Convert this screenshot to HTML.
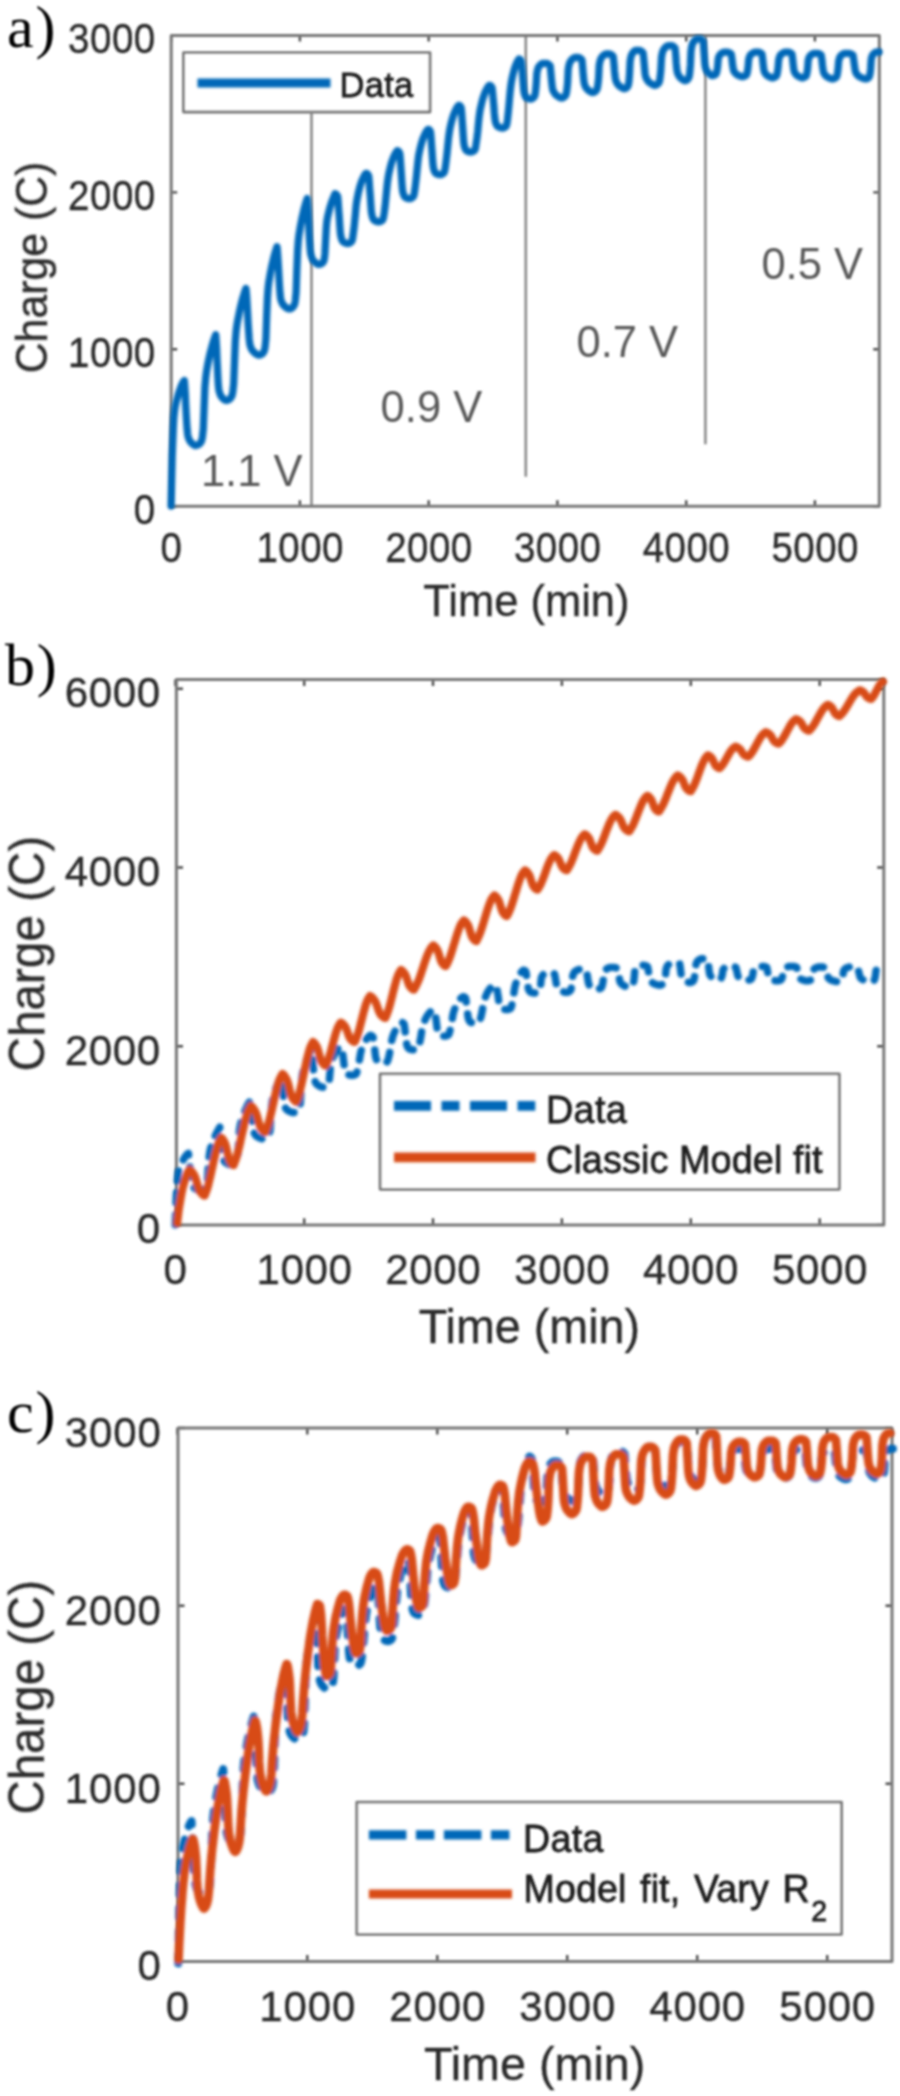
<!DOCTYPE html>
<html><head><meta charset="utf-8"><title>Charge vs Time</title>
<style>
html,body{margin:0;padding:0;background:#fff;}
body{width:900px;height:2096px;overflow:hidden;}
svg{display:block;}
</style></head><body>
<svg width="900" height="2096" viewBox="0 0 900 2096">
<defs><filter id="blt" filterUnits="userSpaceOnUse" x="0" y="0" width="900" height="2096"><feGaussianBlur stdDeviation="1.05"/></filter><filter id="blg" filterUnits="userSpaceOnUse" x="0" y="0" width="900" height="2096"><feGaussianBlur stdDeviation="1.35"/></filter></defs>
<rect width="900" height="2096" fill="#fff"/>
<g font-family="'Liberation Sans', Arial, Helvetica, sans-serif" fill="#2a2a2a">
<g filter="url(#blt)">
<text transform="translate(7.00 47.00)" font-size="60.00" letter-spacing="1.80" fill="#000" font-family="'Liberation Serif', 'Times New Roman', serif">a)</text>
<line x1="311.5" y1="112.0" x2="311.5" y2="506.2" stroke="#8a8a8a" stroke-width="2.6"/>
<line x1="525.8" y1="35.5" x2="525.8" y2="476.7" stroke="#8a8a8a" stroke-width="2.6"/>
<line x1="705.4" y1="35.5" x2="705.4" y2="444.3" stroke="#8a8a8a" stroke-width="2.6"/>
<path d="M171.2 506.2V500.2M171.2 35.5V41.5M299.9 506.2V500.2M299.9 35.5V41.5M428.7 506.2V500.2M428.7 35.5V41.5M557.4 506.2V500.2M557.4 35.5V41.5M686.2 506.2V500.2M686.2 35.5V41.5M814.9 506.2V500.2M814.9 35.5V41.5M171.2 506.2H177.2M879.3 506.2H873.3M171.2 349.3H177.2M879.3 349.3H873.3M171.2 192.4H177.2M879.3 192.4H873.3M171.2 35.5H177.2M879.3 35.5H873.3" stroke="#4a4a4a" stroke-width="2.40" fill="none"/>
<text transform="translate(171.45 561.80) scale(1.000 1.090)" font-size="38.50" letter-spacing="0.50" stroke="#2a2a2a" stroke-width="0.35" text-anchor="middle" fill="#2a2a2a">0</text>
<text transform="translate(300.20 561.80) scale(1.000 1.090)" font-size="38.50" letter-spacing="0.50" stroke="#2a2a2a" stroke-width="0.35" text-anchor="middle" fill="#2a2a2a">1000</text>
<text transform="translate(428.94 561.80) scale(1.000 1.090)" font-size="38.50" letter-spacing="0.50" stroke="#2a2a2a" stroke-width="0.35" text-anchor="middle" fill="#2a2a2a">2000</text>
<text transform="translate(557.69 561.80) scale(1.000 1.090)" font-size="38.50" letter-spacing="0.50" stroke="#2a2a2a" stroke-width="0.35" text-anchor="middle" fill="#2a2a2a">3000</text>
<text transform="translate(686.43 561.80) scale(1.000 1.090)" font-size="38.50" letter-spacing="0.50" stroke="#2a2a2a" stroke-width="0.35" text-anchor="middle" fill="#2a2a2a">4000</text>
<text transform="translate(815.18 561.80) scale(1.000 1.090)" font-size="38.50" letter-spacing="0.50" stroke="#2a2a2a" stroke-width="0.35" text-anchor="middle" fill="#2a2a2a">5000</text>
<text transform="translate(155.70 523.80) scale(1.000 1.090)" font-size="38.50" letter-spacing="0.50" stroke="#2a2a2a" stroke-width="0.35" text-anchor="end" fill="#2a2a2a">0</text>
<text transform="translate(155.70 366.90) scale(1.000 1.090)" font-size="38.50" letter-spacing="0.50" stroke="#2a2a2a" stroke-width="0.35" text-anchor="end" fill="#2a2a2a">1000</text>
<text transform="translate(155.70 210.00) scale(1.000 1.090)" font-size="38.50" letter-spacing="0.50" stroke="#2a2a2a" stroke-width="0.35" text-anchor="end" fill="#2a2a2a">2000</text>
<text transform="translate(155.70 53.10) scale(1.000 1.090)" font-size="38.50" letter-spacing="0.50" stroke="#2a2a2a" stroke-width="0.35" text-anchor="end" fill="#2a2a2a">3000</text>
<text transform="translate(526.40 616.30) scale(1.000 1.040)" font-size="43.50" stroke="#2a2a2a" stroke-width="0.35" text-anchor="middle" fill="#2a2a2a">Time (min)</text>
<text transform="translate(46.50 267.50) rotate(-90) scale(1.000 1.040)" font-size="42.80" stroke="#2a2a2a" stroke-width="0.35" text-anchor="middle" fill="#2a2a2a">Charge (C)</text>
<rect x="171.2" y="35.5" width="708.1" height="470.7" fill="none" stroke="#777777" stroke-width="3" stroke-linejoin="round"/>
</g>
<g filter="url(#blg)">
<path d="M171.1 506.0 L171.7 478.7 L172.2 456.4 L172.8 440.8 L173.3 427.8 L173.8 418.0 L174.4 412.1 L174.9 408.2 L175.5 405.0 L176.1 402.4 L176.6 400.2 L177.2 398.3 L177.7 396.5 L178.2 394.7 L178.8 393.0 L179.3 391.3 L179.9 389.6 L180.5 388.0 L181.0 386.6 L181.6 385.2 L182.1 384.0 L182.7 382.9 L183.2 381.9 L183.8 381.2 L184.3 380.6 L184.8 386.6 L185.3 394.2 L185.7 404.5 L186.2 414.5 L186.7 423.1 L187.2 429.9 L187.7 434.6 L188.1 436.6 L188.6 438.2 L189.1 439.4 L189.6 440.5 L190.1 441.2 L190.5 441.9 L191.0 442.4 L191.5 442.9 L192.0 443.4 L192.4 443.8 L192.9 444.2 L193.4 444.6 L193.9 444.9 L194.4 445.2 L194.8 445.3 L195.3 445.5 L195.8 445.5 L196.6 445.4 L197.5 445.1 L198.3 444.7 L199.1 444.2 L199.9 443.5 L200.8 442.4 L201.6 440.8 L202.4 437.2 L203.3 428.9 L204.1 407.6 L204.9 386.9 L205.8 377.0 L206.6 370.9 L207.4 366.3 L208.2 362.0 L209.1 357.9 L209.9 354.3 L210.7 350.9 L211.6 347.8 L212.4 344.8 L213.2 342.0 L214.0 339.4 L214.9 336.9 L215.7 334.7 L216.1 340.8 L216.6 348.5 L217.0 358.9 L217.5 369.0 L217.9 377.7 L218.3 384.6 L218.8 389.4 L219.2 391.4 L219.7 393.0 L220.1 394.3 L220.6 395.3 L221.0 396.1 L221.4 396.7 L221.9 397.3 L222.3 397.8 L222.8 398.3 L223.2 398.7 L223.7 399.1 L224.1 399.5 L224.5 399.8 L225.0 400.0 L225.4 400.2 L225.9 400.4 L226.3 400.4 L227.1 400.3 L227.9 400.0 L228.8 399.6 L229.6 399.1 L230.4 398.4 L231.2 397.3 L232.0 395.6 L232.8 392.0 L233.7 383.6 L234.5 362.1 L235.3 341.2 L236.1 331.2 L236.9 325.0 L237.7 320.3 L238.6 316.0 L239.4 311.9 L240.2 308.2 L241.0 304.8 L241.8 301.7 L242.6 298.7 L243.5 295.8 L244.3 293.1 L245.1 290.7 L245.9 288.4 L246.5 294.6 L247.0 302.4 L247.6 312.9 L248.1 323.2 L248.7 332.0 L249.2 339.1 L249.8 343.9 L250.3 346.0 L250.9 347.6 L251.4 348.9 L252.0 349.9 L252.6 350.7 L253.1 351.4 L253.7 351.9 L254.2 352.4 L254.8 352.9 L255.3 353.4 L255.9 353.8 L256.4 354.2 L257.0 354.5 L257.5 354.7 L258.1 354.9 L258.6 355.1 L259.2 355.1 L259.9 355.0 L260.7 354.7 L261.4 354.3 L262.2 353.8 L262.9 353.1 L263.6 352.1 L264.4 350.5 L265.1 347.0 L265.9 338.9 L266.6 318.0 L267.4 297.8 L268.1 288.1 L268.8 282.1 L269.6 277.6 L270.3 273.4 L271.1 269.4 L271.8 265.9 L272.6 262.6 L273.3 259.5 L274.0 256.6 L274.8 253.9 L275.5 251.3 L276.3 248.9 L277.0 246.7 L277.5 252.5 L278.0 259.8 L278.6 269.6 L279.1 279.2 L279.6 287.4 L280.1 294.0 L280.6 298.5 L281.1 300.4 L281.6 301.9 L282.2 303.1 L282.7 304.1 L283.2 304.8 L283.7 305.4 L284.2 305.9 L284.8 306.4 L285.3 306.9 L285.8 307.3 L286.3 307.7 L286.8 308.0 L287.3 308.3 L287.8 308.6 L288.4 308.7 L288.9 308.9 L289.4 308.9 L290.1 308.8 L290.9 308.5 L291.6 308.1 L292.4 307.6 L293.1 306.9 L293.8 305.8 L294.6 304.2 L295.3 300.6 L296.1 292.4 L296.8 271.1 L297.6 250.5 L298.3 240.6 L299.0 234.6 L299.8 230.0 L300.5 225.7 L301.3 221.7 L302.0 218.0 L302.8 214.7 L303.5 211.6 L304.2 208.6 L305.0 205.8 L305.7 203.2 L306.5 200.7 L307.2 198.5 L307.7 204.6 L308.2 212.4 L308.7 222.7 L309.1 232.9 L309.6 241.6 L310.1 248.6 L310.6 253.3 L311.1 255.4 L311.6 257.0 L312.1 258.3 L312.6 259.3 L313.0 260.1 L313.5 260.7 L314.0 261.3 L314.5 261.8 L315.0 262.3 L315.5 262.7 L316.0 263.1 L316.5 263.5 L316.9 263.8 L317.4 264.0 L317.9 264.2 L318.4 264.4 L318.9 264.4 L319.6 264.3 L320.2 264.1 L320.9 263.9 L321.6 263.6 L322.3 263.1 L322.9 262.4 L323.6 261.4 L324.3 259.1 L324.9 253.8 L325.6 240.2 L326.3 227.1 L326.9 220.8 L327.6 216.9 L328.3 213.9 L329.0 211.2 L329.6 208.6 L330.3 206.3 L331.0 204.1 L331.6 202.2 L332.3 200.3 L333.0 198.5 L333.7 196.8 L334.3 195.2 L335.0 193.8 L335.5 193.9 L336.1 194.2 L336.6 194.8 L337.1 195.5 L337.7 196.7 L338.2 202.1 L338.7 209.8 L339.3 217.2 L339.8 225.6 L340.3 232.8 L340.9 236.5 L341.4 238.4 L341.9 239.9 L342.5 241.0 L343.0 241.7 L343.5 242.1 L344.1 242.4 L344.6 242.7 L345.1 242.9 L345.7 243.1 L346.2 243.3 L346.7 243.4 L347.3 243.5 L347.8 243.5 L348.6 243.4 L349.3 243.2 L350.1 242.8 L350.8 242.3 L351.6 241.6 L352.4 239.7 L353.1 234.8 L353.9 229.0 L354.6 222.1 L355.4 213.8 L356.1 205.8 L356.9 200.0 L357.7 196.0 L358.4 192.4 L359.2 189.3 L359.9 186.5 L360.7 184.0 L361.4 181.9 L362.2 180.0 L363.0 178.3 L363.7 176.7 L364.5 175.3 L365.2 174.2 L366.0 173.3 L366.5 173.4 L367.1 173.7 L367.6 174.2 L368.1 175.0 L368.7 176.1 L369.2 181.4 L369.7 188.9 L370.3 196.1 L370.8 204.3 L371.3 211.3 L371.9 214.9 L372.4 216.8 L372.9 218.3 L373.5 219.4 L374.0 220.1 L374.5 220.5 L375.1 220.8 L375.6 221.0 L376.1 221.3 L376.7 221.4 L377.2 221.6 L377.7 221.7 L378.3 221.8 L378.8 221.8 L379.6 221.7 L380.3 221.5 L381.1 221.1 L381.9 220.6 L382.7 219.9 L383.4 217.9 L384.2 213.0 L385.0 207.1 L385.7 200.1 L386.5 191.7 L387.3 183.6 L388.1 177.7 L388.8 173.7 L389.6 170.1 L390.4 166.9 L391.1 164.1 L391.9 161.6 L392.7 159.4 L393.4 157.5 L394.2 155.7 L395.0 154.1 L395.8 152.7 L396.5 151.6 L397.3 150.7 L397.8 150.8 L398.3 151.1 L398.8 151.6 L399.3 152.4 L399.8 153.5 L400.3 158.7 L400.8 166.2 L401.3 173.3 L401.8 181.4 L402.3 188.3 L402.8 191.9 L403.3 193.7 L403.8 195.2 L404.3 196.3 L404.8 197.0 L405.3 197.4 L405.8 197.7 L406.3 197.9 L406.8 198.2 L407.3 198.4 L407.8 198.5 L408.3 198.6 L408.8 198.7 L409.3 198.7 L410.1 198.6 L410.9 198.4 L411.6 198.0 L412.4 197.5 L413.2 196.8 L414.0 194.9 L414.8 190.1 L415.5 184.4 L416.3 177.5 L417.1 169.3 L417.9 161.5 L418.6 155.7 L419.4 151.7 L420.2 148.2 L421.0 145.1 L421.8 142.3 L422.5 139.9 L423.3 137.8 L424.1 135.9 L424.9 134.2 L425.7 132.6 L426.4 131.3 L427.2 130.2 L428.0 129.3 L428.5 129.4 L429.0 129.7 L429.5 130.2 L430.0 130.9 L430.5 131.9 L431.0 136.9 L431.5 143.9 L432.0 150.7 L432.5 158.3 L433.0 164.9 L433.5 168.3 L434.0 170.0 L434.5 171.4 L435.0 172.4 L435.5 173.1 L436.0 173.5 L436.5 173.7 L437.0 174.0 L437.5 174.2 L438.0 174.4 L438.5 174.5 L439.0 174.6 L439.5 174.7 L440.0 174.7 L440.8 174.6 L441.6 174.4 L442.3 174.0 L443.1 173.5 L443.9 172.8 L444.7 170.9 L445.5 166.1 L446.2 160.4 L447.0 153.5 L447.8 145.3 L448.6 137.5 L449.4 131.7 L450.1 127.7 L450.9 124.2 L451.7 121.1 L452.5 118.3 L453.2 115.9 L454.0 113.8 L454.8 111.9 L455.6 110.2 L456.4 108.6 L457.1 107.3 L457.9 106.2 L458.7 105.3 L459.2 105.4 L459.7 105.7 L460.2 106.2 L460.7 106.9 L461.2 108.0 L461.7 113.1 L462.2 120.4 L462.7 127.3 L463.2 135.2 L463.7 141.9 L464.2 145.4 L464.7 147.2 L465.2 148.6 L465.7 149.7 L466.2 150.3 L466.7 150.7 L467.2 151.0 L467.7 151.3 L468.2 151.5 L468.7 151.7 L469.2 151.8 L469.7 151.9 L470.2 152.0 L470.7 152.0 L471.5 151.9 L472.2 151.7 L473.0 151.4 L473.8 150.9 L474.6 150.2 L475.4 148.4 L476.1 143.7 L476.9 138.2 L477.7 131.6 L478.4 123.7 L479.2 116.2 L480.0 110.6 L480.8 106.8 L481.6 103.5 L482.3 100.5 L483.1 97.8 L483.9 95.5 L484.6 93.5 L485.4 91.6 L486.2 90.0 L487.0 88.5 L487.8 87.2 L488.5 86.1 L489.3 85.3 L489.9 85.4 L490.4 85.7 L491.0 86.1 L491.5 86.8 L492.1 87.8 L492.6 92.4 L493.2 99.1 L493.8 105.4 L494.3 112.6 L494.9 118.8 L495.4 122.0 L496.0 123.6 L496.6 124.9 L497.1 125.9 L497.7 126.5 L498.2 126.8 L498.8 127.1 L499.4 127.3 L499.9 127.5 L500.5 127.7 L501.0 127.8 L501.6 127.9 L502.1 128.0 L502.7 128.0 L503.4 127.9 L504.1 127.7 L504.7 127.3 L505.4 126.8 L506.1 126.1 L506.8 124.3 L507.5 119.4 L508.1 113.8 L508.8 106.9 L509.5 98.8 L510.2 91.0 L510.9 85.2 L511.5 81.3 L512.2 77.8 L512.9 74.7 L513.6 72.0 L514.2 69.6 L514.9 67.4 L515.6 65.6 L516.3 63.9 L517.0 62.3 L517.6 61.0 L518.3 59.9 L519.0 59.0 L519.5 59.1 L520.0 59.3 L520.4 59.8 L520.9 60.4 L521.4 61.3 L521.9 65.7 L522.4 71.9 L522.8 77.8 L523.3 84.6 L523.8 90.4 L524.3 93.3 L524.8 94.9 L525.2 96.1 L525.7 97.0 L526.2 97.6 L526.7 97.9 L527.1 98.1 L527.6 98.4 L528.1 98.6 L528.6 98.7 L529.1 98.8 L529.5 98.9 L530.0 99.0 L530.5 99.0 L531.1 98.9 L531.8 98.8 L532.4 98.5 L533.0 98.0 L533.6 97.5 L534.2 96.8 L534.9 95.3 L535.5 91.6 L536.1 85.6 L536.8 73.7 L537.4 70.4 L538.0 68.2 L538.6 66.9 L539.2 66.1 L539.9 65.3 L540.5 64.7 L541.1 64.2 L541.8 63.7 L542.4 63.5 L543.0 63.3 L543.6 63.3 L544.2 63.3 L544.9 63.3 L545.5 63.3 L546.2 63.3 L546.8 63.4 L547.5 63.7 L548.2 64.0 L548.8 64.5 L549.5 65.1 L550.2 65.9 L550.8 72.1 L551.5 80.1 L552.2 86.7 L552.8 90.0 L553.5 91.5 L554.2 92.7 L554.8 93.7 L555.5 94.5 L556.2 95.1 L556.8 95.7 L557.5 96.1 L558.2 96.5 L558.8 96.9 L559.5 97.3 L560.2 97.6 L560.8 97.9 L561.5 98.0 L562.2 97.9 L562.9 97.7 L563.5 97.4 L564.2 96.9 L564.9 96.3 L565.5 95.5 L566.2 93.8 L566.9 89.6 L567.6 82.8 L568.2 69.3 L568.9 65.5 L569.6 63.1 L570.3 61.6 L571.0 60.6 L571.6 59.8 L572.3 59.1 L573.0 58.5 L573.7 58.0 L574.3 57.7 L575.0 57.5 L575.7 57.5 L576.4 57.5 L577.0 57.5 L577.7 57.5 L578.3 57.5 L578.9 57.6 L579.6 57.9 L580.2 58.2 L580.8 58.7 L581.4 59.3 L582.0 60.1 L582.6 66.4 L583.2 74.4 L583.9 81.1 L584.5 84.4 L585.1 85.9 L585.7 87.1 L586.3 88.1 L587.0 88.9 L587.6 89.6 L588.2 90.1 L588.8 90.6 L589.4 91.0 L590.0 91.4 L590.6 91.8 L591.3 92.1 L591.9 92.4 L592.5 92.5 L593.2 92.4 L593.9 92.2 L594.5 91.9 L595.2 91.5 L595.9 90.9 L596.5 90.1 L597.2 88.5 L597.9 84.5 L598.6 78.1 L599.2 65.2 L599.9 61.6 L600.6 59.3 L601.3 57.9 L602.0 57.0 L602.6 56.2 L603.3 55.5 L604.0 54.9 L604.7 54.5 L605.3 54.2 L606.0 54.0 L606.7 54.0 L607.4 54.0 L608.0 54.0 L608.7 54.0 L609.4 54.0 L610.0 54.1 L610.7 54.4 L611.3 54.7 L612.0 55.2 L612.6 55.8 L613.2 56.6 L613.9 62.8 L614.5 70.8 L615.2 77.4 L615.9 80.7 L616.5 82.2 L617.1 83.4 L617.8 84.4 L618.5 85.2 L619.1 85.8 L619.8 86.4 L620.4 86.8 L621.0 87.2 L621.7 87.6 L622.3 88.0 L623.0 88.3 L623.6 88.6 L624.3 88.7 L624.9 88.6 L625.5 88.4 L626.0 88.1 L626.6 87.7 L627.2 87.1 L627.8 86.3 L628.4 84.7 L629.0 80.7 L629.5 74.3 L630.1 61.5 L630.7 57.9 L631.3 55.6 L631.9 54.2 L632.5 53.3 L633.0 52.5 L633.6 51.8 L634.2 51.2 L634.8 50.8 L635.4 50.5 L636.0 50.3 L636.5 50.3 L637.1 50.3 L637.7 50.3 L638.3 50.3 L639.0 50.3 L639.7 50.4 L640.3 50.7 L641.0 51.0 L641.7 51.5 L642.4 52.1 L643.1 52.9 L643.8 59.2 L644.5 67.2 L645.1 73.9 L645.8 77.2 L646.5 78.7 L647.2 79.9 L647.9 80.9 L648.5 81.7 L649.2 82.4 L649.9 82.9 L650.6 83.4 L651.3 83.8 L652.0 84.2 L652.7 84.6 L653.3 84.9 L654.0 85.2 L654.7 85.3 L655.4 85.2 L656.1 85.0 L656.7 84.7 L657.4 84.2 L658.1 83.6 L658.8 82.9 L659.5 81.2 L660.1 77.1 L660.8 70.5 L661.5 57.2 L662.2 53.5 L662.9 51.1 L663.5 49.7 L664.2 48.8 L664.9 48.0 L665.6 47.2 L666.2 46.6 L666.9 46.2 L667.6 45.9 L668.3 45.7 L669.0 45.7 L669.6 45.7 L670.3 45.7 L671.0 45.7 L671.6 45.7 L672.2 45.8 L672.8 46.1 L673.3 46.4 L673.9 46.9 L674.5 47.5 L675.1 48.3 L675.7 54.6 L676.2 62.6 L676.8 69.3 L677.4 72.6 L678.0 74.1 L678.6 75.3 L679.2 76.3 L679.8 77.1 L680.3 77.8 L680.9 78.3 L681.5 78.8 L682.1 79.2 L682.7 79.6 L683.2 80.0 L683.8 80.3 L684.4 80.6 L685.0 80.7 L685.6 80.6 L686.2 80.4 L686.8 80.1 L687.4 79.6 L688.0 78.9 L688.6 78.1 L689.2 76.4 L689.8 72.0 L690.4 65.0 L691.0 51.0 L691.6 47.1 L692.2 44.6 L692.9 43.0 L693.5 42.0 L694.1 41.2 L694.7 40.4 L695.3 39.8 L695.9 39.3 L696.5 39.0 L697.1 38.8 L697.7 38.8 L698.3 38.8 L698.9 38.8 L699.5 38.8 L700.0 38.8 L700.6 39.0 L701.1 39.2 L701.6 39.5 L702.1 40.0 L702.7 40.7 L703.2 41.5 L703.7 48.2 L704.3 56.6 L704.8 63.6 L705.3 67.1 L705.9 68.7 L706.4 70.0 L706.9 71.0 L707.4 71.9 L708.0 72.5 L708.5 73.1 L709.0 73.6 L709.6 74.0 L710.1 74.5 L710.6 74.9 L711.1 75.2 L711.7 75.4 L712.2 75.6 L712.8 75.6 L713.4 75.4 L714.0 75.2 L714.6 75.0 L715.2 74.6 L715.8 74.2 L716.4 73.2 L717.0 70.7 L717.6 66.8 L718.2 59.0 L718.8 56.8 L719.5 55.4 L720.1 54.6 L720.7 54.0 L721.3 53.5 L721.9 53.1 L722.5 52.8 L723.1 52.5 L723.7 52.3 L724.3 52.2 L724.9 52.2 L725.5 52.2 L726.1 52.2 L726.7 52.2 L727.3 52.2 L728.0 52.3 L728.6 52.5 L729.3 52.7 L729.9 53.0 L730.6 53.5 L731.2 54.0 L731.9 58.4 L732.5 64.1 L733.2 68.7 L733.8 71.1 L734.5 72.1 L735.1 72.9 L735.7 73.6 L736.4 74.2 L737.0 74.7 L737.7 75.0 L738.3 75.4 L739.0 75.7 L739.6 75.9 L740.3 76.2 L740.9 76.4 L741.6 76.6 L742.2 76.7 L742.9 76.7 L743.5 76.5 L744.2 76.3 L744.8 76.0 L745.5 75.7 L746.1 75.2 L746.8 74.2 L747.4 71.6 L748.0 67.5 L748.7 59.3 L749.4 57.0 L750.0 55.6 L750.6 54.7 L751.3 54.1 L752.0 53.6 L752.6 53.2 L753.2 52.8 L753.9 52.5 L754.5 52.3 L755.2 52.2 L755.8 52.2 L756.5 52.2 L757.1 52.2 L757.8 52.2 L758.4 52.2 L759.0 52.3 L759.6 52.5 L760.2 52.7 L760.8 53.1 L761.4 53.5 L762.0 54.1 L762.6 58.7 L763.2 64.6 L763.8 69.5 L764.4 71.9 L765.0 73.0 L765.6 73.9 L766.2 74.6 L766.8 75.2 L767.4 75.7 L768.0 76.1 L768.6 76.4 L769.2 76.7 L769.8 77.0 L770.4 77.3 L771.0 77.5 L771.6 77.7 L772.2 77.8 L772.9 77.8 L773.5 77.6 L774.2 77.4 L774.8 77.1 L775.5 76.7 L776.1 76.2 L776.8 75.1 L777.4 72.5 L778.0 68.2 L778.7 59.7 L779.4 57.3 L780.0 55.7 L780.6 54.8 L781.3 54.2 L782.0 53.7 L782.6 53.2 L783.2 52.8 L783.9 52.5 L784.5 52.3 L785.2 52.2 L785.8 52.2 L786.5 52.2 L787.1 52.2 L787.8 52.2 L788.4 52.2 L789.0 52.3 L789.6 52.5 L790.2 52.7 L790.8 53.1 L791.4 53.5 L792.0 54.1 L792.6 58.7 L793.2 64.6 L793.8 69.5 L794.4 71.9 L795.0 73.0 L795.6 73.9 L796.2 74.6 L796.8 75.2 L797.4 75.7 L798.0 76.1 L798.6 76.4 L799.2 76.7 L799.8 77.0 L800.4 77.3 L801.0 77.5 L801.6 77.7 L802.2 77.8 L802.8 77.8 L803.4 77.6 L804.0 77.4 L804.6 77.1 L805.2 76.8 L805.8 76.3 L806.4 75.3 L807.0 72.7 L807.6 68.6 L808.2 60.4 L808.8 58.1 L809.5 56.7 L810.1 55.8 L810.7 55.2 L811.3 54.7 L811.9 54.3 L812.5 53.9 L813.1 53.6 L813.7 53.4 L814.3 53.3 L814.9 53.3 L815.5 53.3 L816.1 53.3 L816.7 53.3 L817.3 53.3 L818.0 53.4 L818.6 53.6 L819.3 53.8 L819.9 54.2 L820.6 54.6 L821.2 55.2 L821.9 59.8 L822.5 65.7 L823.2 70.6 L823.8 73.0 L824.5 74.1 L825.1 75.0 L825.7 75.7 L826.4 76.3 L827.0 76.8 L827.7 77.2 L828.3 77.5 L829.0 77.8 L829.6 78.1 L830.3 78.4 L830.9 78.6 L831.6 78.8 L832.2 78.9 L832.9 78.9 L833.5 78.7 L834.2 78.5 L834.8 78.2 L835.5 77.8 L836.1 77.3 L836.8 76.2 L837.4 73.6 L838.0 69.3 L838.7 60.8 L839.4 58.4 L840.0 56.8 L840.6 55.9 L841.3 55.3 L842.0 54.8 L842.6 54.3 L843.2 53.9 L843.9 53.6 L844.5 53.4 L845.2 53.3 L845.8 53.3 L846.5 53.3 L847.1 53.3 L847.8 53.3 L848.5 53.3 L849.3 53.4 L850.0 53.6 L850.8 53.8 L851.5 54.2 L852.2 54.6 L853.0 55.2 L853.7 59.8 L854.5 65.7 L855.2 70.6 L856.0 73.0 L856.7 74.1 L857.4 75.0 L858.2 75.7 L858.9 76.3 L859.7 76.8 L860.4 77.2 L861.1 77.5 L861.9 77.8 L862.6 78.1 L863.4 78.4 L864.1 78.6 L864.9 78.8 L865.6 78.9 L866.2 78.9 L866.7 78.7 L867.3 78.5 L867.8 78.2 L868.4 77.8 L869.0 77.2 L869.5 76.1 L870.1 73.3 L870.6 68.8 L871.2 59.8 L871.7 57.3 L872.3 55.7 L872.9 54.7 L873.4 54.1 L874.0 53.5 L874.5 53.0 L875.1 52.6 L875.6 52.3 L876.2 52.1 L876.8 52.0 L877.3 52.0 L877.9 52.0 L878.4 52.0 L879.0 52.0" stroke="#0068B8" stroke-width="7.30" fill="none" stroke-linejoin="round" stroke-linecap="round"/>
</g>
<g filter="url(#blt)">
<text transform="translate(200.90 486.00)" font-size="43.50" fill="#595959">1.1 V</text>
<text transform="translate(380.60 422.30)" font-size="43.50" fill="#595959">0.9 V</text>
<text transform="translate(576.50 357.20)" font-size="43.50" fill="#595959">0.7 V</text>
<text transform="translate(761.40 279.00)" font-size="43.50" fill="#595959">0.5 V</text>
<rect x="183.5" y="52.6" width="246.5" height="59.4" fill="#fff" stroke="#777777" stroke-width="2.8" stroke-linejoin="round"/>
</g>
<g filter="url(#blg)">
<line x1="197.5" y1="83.0" x2="330.5" y2="83.0" stroke="#0068B8" stroke-width="9.0"/>
</g>
<g filter="url(#blt)">
<text transform="translate(339.50 97.30) scale(1.000 1.020)" font-size="34.50" letter-spacing="0.30" stroke="#1e1e1e" stroke-width="0.75" fill="#1e1e1e">Data</text>
<text transform="translate(5.00 684.50)" font-size="60.00" letter-spacing="1.80" fill="#000" font-family="'Liberation Serif', 'Times New Roman', serif">b)</text>
<path d="M175.3 1224.9V1218.3M175.3 679.4V686.0M304.2 1224.9V1218.3M304.2 679.4V686.0M433.0 1224.9V1218.3M433.0 679.4V686.0M561.9 1224.9V1218.3M561.9 679.4V686.0M690.8 1224.9V1218.3M690.8 679.4V686.0M819.7 1224.9V1218.3M819.7 679.4V686.0M176.4 1224.9H183.0M883.8 1224.9H877.2M176.4 1046.2H183.0M883.8 1046.2H877.2M176.4 867.5H183.0M883.8 867.5H877.2M176.4 688.8H183.0M883.8 688.8H877.2" stroke="#4a4a4a" stroke-width="2.40" fill="none"/>
<text transform="translate(175.57 1284.20) scale(1.000 1.030)" font-size="42.16" letter-spacing="0.55" stroke="#2a2a2a" stroke-width="0.35" text-anchor="middle" fill="#2a2a2a">0</text>
<text transform="translate(304.45 1284.20) scale(1.000 1.030)" font-size="42.16" letter-spacing="0.55" stroke="#2a2a2a" stroke-width="0.35" text-anchor="middle" fill="#2a2a2a">1000</text>
<text transform="translate(433.32 1284.20) scale(1.000 1.030)" font-size="42.16" letter-spacing="0.55" stroke="#2a2a2a" stroke-width="0.35" text-anchor="middle" fill="#2a2a2a">2000</text>
<text transform="translate(562.19 1284.20) scale(1.000 1.030)" font-size="42.16" letter-spacing="0.55" stroke="#2a2a2a" stroke-width="0.35" text-anchor="middle" fill="#2a2a2a">3000</text>
<text transform="translate(691.06 1284.20) scale(1.000 1.030)" font-size="42.16" letter-spacing="0.55" stroke="#2a2a2a" stroke-width="0.35" text-anchor="middle" fill="#2a2a2a">4000</text>
<text transform="translate(819.94 1284.20) scale(1.000 1.030)" font-size="42.16" letter-spacing="0.55" stroke="#2a2a2a" stroke-width="0.35" text-anchor="middle" fill="#2a2a2a">5000</text>
<text transform="translate(160.75 1243.40) scale(1.000 1.030)" font-size="42.16" letter-spacing="0.55" stroke="#2a2a2a" stroke-width="0.35" text-anchor="end" fill="#2a2a2a">0</text>
<text transform="translate(160.75 1064.70) scale(1.000 1.030)" font-size="42.16" letter-spacing="0.55" stroke="#2a2a2a" stroke-width="0.35" text-anchor="end" fill="#2a2a2a">2000</text>
<text transform="translate(160.75 886.00) scale(1.000 1.030)" font-size="42.16" letter-spacing="0.55" stroke="#2a2a2a" stroke-width="0.35" text-anchor="end" fill="#2a2a2a">4000</text>
<text transform="translate(160.75 707.30) scale(1.000 1.030)" font-size="42.16" letter-spacing="0.55" stroke="#2a2a2a" stroke-width="0.35" text-anchor="end" fill="#2a2a2a">6000</text>
<text transform="translate(529.40 1342.60) scale(1.000 1.020)" font-size="46.70" stroke="#2a2a2a" stroke-width="0.35" text-anchor="middle" fill="#2a2a2a">Time (min)</text>
<text transform="translate(44.00 953.60) rotate(-90) scale(1.000 1.040)" font-size="47.63" stroke="#2a2a2a" stroke-width="0.35" text-anchor="middle" fill="#2a2a2a">Charge (C)</text>
<rect x="176.4" y="679.4" width="707.4" height="545.5" fill="none" stroke="#777777" stroke-width="3" stroke-linejoin="round"/>
</g>
<g filter="url(#blg)">
<path d="M175.2 1224.8 L175.8 1209.2 L176.3 1196.5 L176.9 1187.6 L177.4 1180.3 L178.0 1174.7 L178.5 1171.3 L179.1 1169.1 L179.6 1167.3 L180.2 1165.8 L180.7 1164.5 L181.3 1163.5 L181.8 1162.4 L182.4 1161.4 L182.9 1160.4 L183.5 1159.4 L184.0 1158.5 L184.6 1157.6 L185.1 1156.8 L185.7 1156.0 L186.2 1155.3 L186.8 1154.7 L187.3 1154.1 L187.9 1153.7 L188.4 1153.4 L188.9 1156.8 L189.4 1161.1 L189.9 1167.0 L190.3 1172.7 L190.8 1177.6 L191.3 1181.5 L191.8 1184.1 L192.3 1185.3 L192.7 1186.2 L193.2 1186.9 L193.7 1187.5 L194.2 1187.9 L194.6 1188.3 L195.1 1188.6 L195.6 1188.9 L196.1 1189.1 L196.6 1189.4 L197.0 1189.6 L197.5 1189.8 L198.0 1190.0 L198.5 1190.1 L199.0 1190.2 L199.4 1190.3 L199.9 1190.3 L200.8 1190.3 L201.6 1190.1 L202.4 1189.9 L203.2 1189.6 L204.1 1189.2 L204.9 1188.6 L205.7 1187.7 L206.6 1185.6 L207.4 1180.9 L208.2 1168.7 L209.1 1157.0 L209.9 1151.3 L210.7 1147.8 L211.5 1145.2 L212.4 1142.8 L213.2 1140.5 L214.0 1138.4 L214.9 1136.5 L215.7 1134.7 L216.5 1133.0 L217.4 1131.4 L218.2 1129.9 L219.0 1128.5 L219.8 1127.2 L220.3 1130.7 L220.7 1135.1 L221.2 1141.0 L221.6 1146.8 L222.1 1151.7 L222.5 1155.7 L222.9 1158.4 L223.4 1159.5 L223.8 1160.4 L224.3 1161.2 L224.7 1161.7 L225.1 1162.2 L225.6 1162.6 L226.0 1162.9 L226.5 1163.2 L226.9 1163.4 L227.4 1163.7 L227.8 1163.9 L228.2 1164.1 L228.7 1164.3 L229.1 1164.4 L229.6 1164.6 L230.0 1164.6 L230.5 1164.6 L231.3 1164.6 L232.1 1164.4 L232.9 1164.2 L233.7 1163.9 L234.5 1163.5 L235.4 1162.9 L236.2 1161.9 L237.0 1159.9 L237.8 1155.1 L238.6 1142.8 L239.4 1130.9 L240.3 1125.2 L241.1 1121.7 L241.9 1119.0 L242.7 1116.6 L243.5 1114.2 L244.4 1112.1 L245.2 1110.2 L246.0 1108.4 L246.8 1106.7 L247.6 1105.1 L248.4 1103.6 L249.3 1102.2 L250.1 1100.9 L250.6 1104.4 L251.2 1108.9 L251.7 1114.8 L252.3 1120.7 L252.8 1125.7 L253.4 1129.7 L254.0 1132.5 L254.5 1133.7 L255.1 1134.6 L255.6 1135.3 L256.2 1135.9 L256.7 1136.4 L257.3 1136.7 L257.8 1137.0 L258.4 1137.3 L258.9 1137.6 L259.5 1137.9 L260.1 1138.1 L260.6 1138.3 L261.2 1138.5 L261.7 1138.6 L262.3 1138.8 L262.8 1138.8 L263.4 1138.9 L264.1 1138.8 L264.9 1138.6 L265.6 1138.4 L266.4 1138.1 L267.1 1137.7 L267.8 1137.1 L268.6 1136.2 L269.3 1134.2 L270.1 1129.6 L270.8 1117.7 L271.6 1106.2 L272.3 1100.7 L273.0 1097.3 L273.8 1094.7 L274.5 1092.3 L275.3 1090.1 L276.0 1088.0 L276.8 1086.2 L277.5 1084.4 L278.2 1082.8 L279.0 1081.2 L279.7 1079.7 L280.5 1078.4 L281.2 1077.1 L281.7 1080.4 L282.2 1084.6 L282.8 1090.1 L283.3 1095.6 L283.8 1100.3 L284.3 1104.0 L284.8 1106.6 L285.3 1107.7 L285.9 1108.6 L286.4 1109.2 L286.9 1109.8 L287.4 1110.2 L287.9 1110.6 L288.4 1110.9 L289.0 1111.1 L289.5 1111.4 L290.0 1111.6 L290.5 1111.9 L291.0 1112.0 L291.5 1112.2 L292.1 1112.4 L292.6 1112.5 L293.1 1112.5 L293.6 1112.5 L294.4 1112.5 L295.1 1112.3 L295.8 1112.1 L296.6 1111.8 L297.3 1111.4 L298.1 1110.8 L298.8 1109.9 L299.6 1107.8 L300.3 1103.1 L301.0 1091.0 L301.8 1079.3 L302.5 1073.7 L303.3 1070.2 L304.0 1067.6 L304.8 1065.1 L305.5 1062.9 L306.2 1060.8 L307.0 1058.9 L307.7 1057.1 L308.5 1055.4 L309.2 1053.8 L309.9 1052.3 L310.7 1050.9 L311.4 1049.7 L311.9 1053.2 L312.4 1057.6 L312.9 1063.5 L313.4 1069.3 L313.9 1074.2 L314.4 1078.2 L314.9 1080.9 L315.3 1082.1 L315.8 1083.0 L316.3 1083.7 L316.8 1084.3 L317.3 1084.7 L317.8 1085.1 L318.3 1085.4 L318.8 1085.7 L319.2 1086.0 L319.7 1086.2 L320.2 1086.5 L320.7 1086.7 L321.2 1086.9 L321.7 1087.0 L322.2 1087.1 L322.7 1087.2 L323.1 1087.2 L323.8 1087.2 L324.5 1087.1 L325.2 1086.9 L325.8 1086.7 L326.5 1086.5 L327.2 1086.1 L327.8 1085.5 L328.5 1084.2 L329.2 1081.2 L329.9 1073.4 L330.5 1065.9 L331.2 1062.3 L331.9 1060.1 L332.5 1058.5 L333.2 1056.9 L333.9 1055.4 L334.6 1054.1 L335.2 1052.9 L335.9 1051.8 L336.6 1050.7 L337.2 1049.7 L337.9 1048.7 L338.6 1047.8 L339.3 1047.0 L339.8 1047.1 L340.3 1047.2 L340.9 1047.5 L341.4 1048.0 L341.9 1048.6 L342.5 1051.7 L343.0 1056.1 L343.5 1060.3 L344.1 1065.1 L344.6 1069.2 L345.1 1071.3 L345.7 1072.4 L346.2 1073.2 L346.7 1073.9 L347.3 1074.3 L347.8 1074.5 L348.3 1074.7 L348.9 1074.9 L349.4 1075.0 L349.9 1075.1 L350.5 1075.2 L351.0 1075.2 L351.5 1075.3 L352.1 1075.3 L352.8 1075.3 L353.6 1075.1 L354.4 1074.9 L355.1 1074.6 L355.9 1074.2 L356.6 1073.1 L357.4 1070.3 L358.1 1067.0 L358.9 1063.1 L359.7 1058.4 L360.4 1053.8 L361.2 1050.5 L361.9 1048.2 L362.7 1046.2 L363.5 1044.4 L364.2 1042.8 L365.0 1041.4 L365.7 1040.2 L366.5 1039.1 L367.3 1038.1 L368.0 1037.3 L368.8 1036.5 L369.5 1035.8 L370.3 1035.3 L370.8 1035.4 L371.4 1035.6 L371.9 1035.9 L372.4 1036.3 L373.0 1036.9 L373.5 1039.9 L374.0 1044.2 L374.6 1048.3 L375.1 1053.0 L375.6 1057.0 L376.2 1059.0 L376.7 1060.1 L377.2 1060.9 L377.8 1061.6 L378.3 1062.0 L378.8 1062.2 L379.4 1062.4 L379.9 1062.5 L380.4 1062.6 L381.0 1062.7 L381.5 1062.8 L382.0 1062.9 L382.6 1062.9 L383.1 1062.9 L383.9 1062.9 L384.6 1062.8 L385.4 1062.6 L386.2 1062.2 L387.0 1061.9 L387.7 1060.7 L388.5 1057.9 L389.3 1054.6 L390.0 1050.6 L390.8 1045.8 L391.6 1041.2 L392.4 1037.8 L393.1 1035.5 L393.9 1033.5 L394.7 1031.7 L395.5 1030.1 L396.2 1028.6 L397.0 1027.4 L397.8 1026.3 L398.5 1025.3 L399.3 1024.4 L400.1 1023.6 L400.9 1023.0 L401.6 1022.5 L402.1 1022.5 L402.6 1022.7 L403.1 1023.0 L403.6 1023.4 L404.1 1024.0 L404.6 1027.0 L405.1 1031.3 L405.6 1035.3 L406.1 1039.9 L406.6 1043.9 L407.1 1045.9 L407.6 1047.0 L408.1 1047.8 L408.6 1048.4 L409.1 1048.8 L409.6 1049.0 L410.1 1049.2 L410.6 1049.4 L411.1 1049.5 L411.6 1049.6 L412.1 1049.7 L412.6 1049.7 L413.1 1049.8 L413.6 1049.8 L414.4 1049.7 L415.2 1049.6 L416.0 1049.4 L416.8 1049.1 L417.5 1048.7 L418.3 1047.6 L419.1 1044.9 L419.9 1041.6 L420.7 1037.7 L421.4 1033.0 L422.2 1028.6 L423.0 1025.3 L423.8 1023.0 L424.6 1021.0 L425.3 1019.3 L426.1 1017.7 L426.9 1016.3 L427.7 1015.1 L428.5 1014.0 L429.2 1013.1 L430.0 1012.2 L430.8 1011.4 L431.6 1010.8 L432.4 1010.3 L432.9 1010.3 L433.4 1010.5 L433.9 1010.8 L434.4 1011.2 L434.9 1011.8 L435.4 1014.6 L435.9 1018.6 L436.4 1022.4 L436.9 1026.8 L437.4 1030.5 L437.9 1032.5 L438.4 1033.5 L438.9 1034.2 L439.4 1034.8 L439.9 1035.2 L440.4 1035.4 L440.9 1035.6 L441.4 1035.7 L441.9 1035.8 L442.4 1035.9 L442.9 1036.0 L443.4 1036.1 L443.9 1036.1 L444.4 1036.1 L445.1 1036.1 L445.9 1036.0 L446.7 1035.7 L447.5 1035.4 L448.3 1035.1 L449.0 1034.0 L449.8 1031.2 L450.6 1028.0 L451.4 1024.0 L452.2 1019.4 L452.9 1014.9 L453.7 1011.6 L454.5 1009.4 L455.3 1007.4 L456.1 1005.6 L456.8 1004.0 L457.6 1002.6 L458.4 1001.4 L459.2 1000.4 L460.0 999.4 L460.7 998.5 L461.5 997.7 L462.3 997.1 L463.1 996.6 L463.6 996.7 L464.1 996.8 L464.6 997.1 L465.1 997.5 L465.6 998.1 L466.1 1001.0 L466.6 1005.2 L467.1 1009.1 L467.6 1013.6 L468.1 1017.4 L468.6 1019.4 L469.1 1020.4 L469.6 1021.3 L470.1 1021.9 L470.6 1022.3 L471.1 1022.5 L471.6 1022.6 L472.1 1022.8 L472.6 1022.9 L473.1 1023.0 L473.6 1023.1 L474.1 1023.1 L474.6 1023.2 L475.1 1023.2 L475.9 1023.2 L476.6 1023.0 L477.4 1022.8 L478.2 1022.5 L479.0 1022.2 L479.8 1021.1 L480.5 1018.5 L481.3 1015.4 L482.1 1011.6 L482.9 1007.1 L483.6 1002.8 L484.4 999.6 L485.2 997.5 L486.0 995.6 L486.7 993.9 L487.5 992.3 L488.3 991.0 L489.1 989.9 L489.8 988.8 L490.6 987.9 L491.4 987.0 L492.2 986.3 L492.9 985.7 L493.7 985.2 L494.3 985.3 L494.8 985.4 L495.4 985.7 L496.0 986.0 L496.5 986.6 L497.1 989.3 L497.6 993.0 L498.2 996.7 L498.7 1000.8 L499.3 1004.3 L499.9 1006.1 L500.4 1007.0 L501.0 1007.8 L501.5 1008.3 L502.1 1008.7 L502.7 1008.9 L503.2 1009.0 L503.8 1009.1 L504.3 1009.3 L504.9 1009.4 L505.5 1009.4 L506.0 1009.5 L506.6 1009.5 L507.1 1009.5 L507.8 1009.5 L508.5 1009.4 L509.2 1009.1 L509.8 1008.9 L510.5 1008.5 L511.2 1007.4 L511.9 1004.6 L512.6 1001.4 L513.2 997.5 L513.9 992.9 L514.6 988.4 L515.3 985.2 L516.0 982.9 L516.6 980.9 L517.3 979.2 L518.0 977.6 L518.7 976.2 L519.4 975.0 L520.0 974.0 L520.7 973.0 L521.4 972.1 L522.1 971.4 L522.8 970.7 L523.4 970.2 L523.9 970.3 L524.4 970.4 L524.9 970.7 L525.4 971.0 L525.8 971.5 L526.3 974.0 L526.8 977.6 L527.3 980.9 L527.8 984.8 L528.2 988.1 L528.7 989.8 L529.2 990.7 L529.7 991.4 L530.2 991.9 L530.6 992.2 L531.1 992.4 L531.6 992.5 L532.1 992.7 L532.6 992.8 L533.0 992.8 L533.5 992.9 L534.0 993.0 L534.5 993.0 L535.0 993.0 L535.6 993.0 L536.2 992.9 L536.8 992.7 L537.5 992.5 L538.1 992.1 L538.7 991.8 L539.3 990.9 L540.0 988.8 L540.6 985.4 L541.2 978.6 L541.8 976.7 L542.5 975.5 L543.1 974.7 L543.7 974.3 L544.3 973.8 L545.0 973.5 L545.6 973.2 L546.2 972.9 L546.8 972.8 L547.5 972.7 L548.1 972.7 L548.7 972.7 L549.3 972.7 L550.0 972.7 L550.6 972.7 L551.3 972.8 L552.0 972.9 L552.6 973.1 L553.3 973.3 L554.0 973.7 L554.6 974.2 L555.3 977.7 L556.0 982.2 L556.6 986.0 L557.3 987.9 L558.0 988.7 L558.6 989.4 L559.3 990.0 L560.0 990.4 L560.6 990.8 L561.3 991.1 L562.0 991.4 L562.6 991.6 L563.3 991.8 L564.0 992.0 L564.7 992.2 L565.3 992.4 L566.0 992.4 L566.7 992.4 L567.3 992.3 L568.0 992.1 L568.7 991.8 L569.4 991.5 L570.0 991.0 L570.7 990.1 L571.4 987.7 L572.1 983.8 L572.7 976.1 L573.4 973.9 L574.1 972.5 L574.8 971.7 L575.4 971.2 L576.1 970.7 L576.8 970.3 L577.5 969.9 L578.1 969.7 L578.8 969.5 L579.5 969.4 L580.2 969.4 L580.9 969.4 L581.5 969.4 L582.2 969.4 L582.8 969.4 L583.4 969.5 L584.1 969.6 L584.7 969.8 L585.3 970.0 L585.9 970.4 L586.5 970.9 L587.1 974.5 L587.8 979.0 L588.4 982.8 L589.0 984.7 L589.6 985.6 L590.2 986.3 L590.8 986.8 L591.5 987.3 L592.1 987.7 L592.7 988.0 L593.3 988.2 L593.9 988.5 L594.5 988.7 L595.2 988.9 L595.8 989.1 L596.4 989.2 L597.0 989.3 L597.7 989.3 L598.4 989.2 L599.0 989.0 L599.7 988.7 L600.4 988.4 L601.1 988.0 L601.7 987.0 L602.4 984.8 L603.1 981.1 L603.8 973.8 L604.4 971.7 L605.1 970.4 L605.8 969.6 L606.5 969.1 L607.2 968.6 L607.8 968.2 L608.5 967.9 L609.2 967.7 L609.9 967.5 L610.5 967.4 L611.2 967.4 L611.9 967.4 L612.6 967.4 L613.2 967.4 L613.9 967.4 L614.5 967.5 L615.2 967.6 L615.8 967.8 L616.5 968.0 L617.1 968.4 L617.8 968.9 L618.4 972.4 L619.1 976.9 L619.7 980.7 L620.4 982.6 L621.0 983.4 L621.7 984.1 L622.3 984.7 L623.0 985.1 L623.6 985.5 L624.3 985.8 L624.9 986.1 L625.6 986.3 L626.2 986.5 L626.9 986.7 L627.5 986.9 L628.2 987.1 L628.8 987.1 L629.4 987.1 L630.0 987.0 L630.6 986.8 L631.2 986.6 L631.8 986.2 L632.4 985.8 L632.9 984.9 L633.5 982.6 L634.1 979.0 L634.7 971.6 L635.3 969.6 L635.9 968.3 L636.4 967.5 L637.0 967.0 L637.6 966.5 L638.2 966.1 L638.8 965.8 L639.4 965.5 L639.9 965.4 L640.5 965.3 L641.1 965.3 L641.7 965.3 L642.3 965.3 L642.9 965.3 L643.5 965.3 L644.2 965.4 L644.9 965.5 L645.6 965.7 L646.3 965.9 L647.0 966.3 L647.6 966.8 L648.3 970.4 L649.0 974.9 L649.7 978.7 L650.4 980.6 L651.1 981.5 L651.8 982.2 L652.4 982.7 L653.1 983.2 L653.8 983.6 L654.5 983.9 L655.2 984.1 L655.9 984.4 L656.5 984.6 L657.2 984.8 L657.9 985.0 L658.6 985.1 L659.3 985.2 L660.0 985.2 L660.6 985.1 L661.3 984.9 L662.0 984.6 L662.7 984.2 L663.4 983.8 L664.0 982.9 L664.7 980.5 L665.4 976.8 L666.1 969.2 L666.8 967.1 L667.4 965.8 L668.1 964.9 L668.8 964.4 L669.5 963.9 L670.2 963.5 L670.8 963.2 L671.5 962.9 L672.2 962.8 L672.9 962.7 L673.6 962.7 L674.2 962.7 L674.9 962.7 L675.6 962.7 L676.2 962.7 L676.8 962.7 L677.3 962.9 L677.9 963.1 L678.5 963.3 L679.1 963.7 L679.7 964.1 L680.3 967.7 L680.8 972.3 L681.4 976.1 L682.0 978.0 L682.6 978.8 L683.2 979.5 L683.8 980.1 L684.4 980.6 L684.9 980.9 L685.5 981.2 L686.1 981.5 L686.7 981.7 L687.3 982.0 L687.9 982.2 L688.4 982.4 L689.0 982.5 L689.6 982.6 L690.2 982.6 L690.8 982.4 L691.4 982.2 L692.0 981.9 L692.6 981.6 L693.2 981.1 L693.8 980.1 L694.4 977.6 L695.1 973.7 L695.7 965.7 L696.3 963.4 L696.9 962.0 L697.5 961.1 L698.1 960.6 L698.7 960.1 L699.3 959.7 L699.9 959.3 L700.5 959.0 L701.1 958.8 L701.7 958.7 L702.3 958.7 L702.9 958.7 L703.5 958.7 L704.1 958.7 L704.7 958.7 L705.2 958.8 L705.7 958.9 L706.2 959.1 L706.8 959.4 L707.3 959.8 L707.8 960.3 L708.4 964.1 L708.9 968.9 L709.4 972.9 L709.9 974.9 L710.5 975.7 L711.0 976.5 L711.5 977.1 L712.1 977.6 L712.6 977.9 L713.1 978.3 L713.7 978.5 L714.2 978.8 L714.7 979.0 L715.2 979.3 L715.8 979.5 L716.3 979.6 L716.8 979.7 L717.4 979.7 L718.0 979.6 L718.6 979.5 L719.3 979.3 L719.9 979.1 L720.5 978.9 L721.1 978.3 L721.7 976.9 L722.3 974.7 L722.9 970.2 L723.5 969.0 L724.1 968.2 L724.7 967.7 L725.3 967.4 L725.9 967.1 L726.5 966.9 L727.1 966.7 L727.7 966.5 L728.3 966.4 L728.9 966.4 L729.5 966.4 L730.1 966.4 L730.7 966.4 L731.3 966.4 L732.0 966.4 L732.6 966.4 L733.3 966.5 L733.9 966.6 L734.6 966.8 L735.2 967.1 L735.9 967.4 L736.5 969.9 L737.2 973.1 L737.8 975.8 L738.5 977.1 L739.1 977.7 L739.8 978.2 L740.4 978.6 L741.0 978.9 L741.7 979.2 L742.3 979.4 L743.0 979.6 L743.6 979.7 L744.3 979.9 L744.9 980.0 L745.6 980.2 L746.2 980.3 L746.9 980.3 L747.5 980.3 L748.2 980.2 L748.8 980.1 L749.5 979.9 L750.1 979.7 L750.8 979.4 L751.4 978.9 L752.1 977.4 L752.7 975.1 L753.4 970.4 L754.0 969.1 L754.7 968.3 L755.3 967.8 L756.0 967.4 L756.6 967.2 L757.3 966.9 L757.9 966.7 L758.6 966.5 L759.2 966.4 L759.9 966.4 L760.5 966.4 L761.2 966.4 L761.8 966.4 L762.5 966.4 L763.1 966.4 L763.7 966.4 L764.3 966.5 L764.9 966.7 L765.5 966.8 L766.1 967.1 L766.7 967.4 L767.3 970.1 L767.9 973.4 L768.5 976.2 L769.1 977.6 L769.7 978.2 L770.3 978.7 L770.9 979.1 L771.5 979.5 L772.1 979.7 L772.7 980.0 L773.3 980.1 L773.9 980.3 L774.5 980.5 L775.1 980.6 L775.7 980.8 L776.3 980.9 L776.9 980.9 L777.5 980.9 L778.2 980.8 L778.8 980.7 L779.5 980.5 L780.1 980.3 L780.8 980.0 L781.4 979.4 L782.1 977.9 L782.7 975.5 L783.4 970.6 L784.1 969.2 L784.7 968.4 L785.4 967.8 L786.0 967.5 L786.7 967.2 L787.3 966.9 L788.0 966.7 L788.6 966.5 L789.3 966.4 L789.9 966.4 L790.6 966.4 L791.2 966.4 L791.9 966.4 L792.5 966.4 L793.1 966.4 L793.7 966.4 L794.3 966.5 L794.9 966.7 L795.5 966.8 L796.1 967.1 L796.7 967.4 L797.3 970.1 L797.9 973.4 L798.5 976.2 L799.1 977.6 L799.7 978.2 L800.3 978.7 L800.9 979.1 L801.5 979.5 L802.1 979.7 L802.7 980.0 L803.3 980.1 L803.9 980.3 L804.5 980.5 L805.1 980.6 L805.7 980.8 L806.3 980.9 L806.9 980.9 L807.5 980.9 L808.1 980.8 L808.7 980.7 L809.3 980.6 L809.9 980.3 L810.6 980.1 L811.2 979.5 L811.8 978.0 L812.4 975.7 L813.0 971.0 L813.6 969.7 L814.2 968.9 L814.8 968.4 L815.4 968.1 L816.0 967.8 L816.6 967.5 L817.2 967.3 L817.8 967.2 L818.4 967.0 L819.0 967.0 L819.6 967.0 L820.2 967.0 L820.8 967.0 L821.4 967.0 L822.1 967.0 L822.7 967.0 L823.4 967.1 L824.0 967.3 L824.7 967.5 L825.3 967.7 L826.0 968.1 L826.6 970.7 L827.3 974.0 L827.9 976.8 L828.5 978.2 L829.2 978.8 L829.8 979.3 L830.5 979.7 L831.1 980.1 L831.8 980.4 L832.4 980.6 L833.1 980.8 L833.7 980.9 L834.4 981.1 L835.0 981.3 L835.7 981.4 L836.3 981.5 L837.0 981.6 L837.6 981.5 L838.3 981.5 L838.9 981.3 L839.6 981.2 L840.2 980.9 L840.9 980.7 L841.5 980.1 L842.2 978.5 L842.8 976.1 L843.5 971.2 L844.1 969.9 L844.8 969.0 L845.4 968.5 L846.1 968.1 L846.7 967.8 L847.4 967.6 L848.0 967.3 L848.7 967.2 L849.3 967.0 L850.0 967.0 L850.6 967.0 L851.3 967.0 L851.9 967.0 L852.6 967.0 L853.3 967.0 L854.1 967.0 L854.8 967.1 L855.5 967.3 L856.3 967.5 L857.0 967.7 L857.8 968.1 L858.5 970.7 L859.3 974.0 L860.0 976.8 L860.7 978.2 L861.5 978.8 L862.2 979.3 L863.0 979.7 L863.7 980.1 L864.4 980.4 L865.2 980.6 L865.9 980.8 L866.7 980.9 L867.4 981.1 L868.2 981.3 L868.9 981.4 L869.6 981.5 L870.4 981.6 L870.9 981.5 L871.5 981.5 L872.1 981.3 L872.6 981.1 L873.2 980.9 L873.7 980.6 L874.3 980.0 L874.9 978.4 L875.4 975.8 L876.0 970.7 L876.5 969.3 L877.1 968.4 L877.7 967.8 L878.2 967.4 L878.8 967.1 L879.3 966.8 L879.9 966.6 L880.4 966.4 L881.0 966.3 L881.6 966.3 L882.1 966.2 L882.7 966.2 L883.2 966.2 L883.8 966.2" stroke="#0068B8" stroke-width="7.40" fill="none" stroke-linejoin="round" stroke-dasharray="10 12" stroke-linecap="round"/>
<path d="M177.2 1223.0 L177.7 1218.7 L178.2 1214.5 L178.7 1210.6 L179.2 1207.0 L179.8 1203.7 L180.3 1200.6 L180.8 1197.6 L181.3 1194.8 L181.8 1192.2 L182.3 1189.8 L182.8 1187.6 L183.3 1185.6 L183.9 1183.8 L184.4 1182.1 L184.9 1180.4 L185.4 1178.7 L185.9 1177.2 L186.4 1175.7 L186.9 1174.4 L187.4 1173.1 L188.0 1172.0 L188.5 1171.0 L189.0 1170.2 L189.5 1169.6 L190.1 1170.0 L190.8 1170.5 L191.4 1171.1 L192.0 1171.9 L192.7 1172.7 L193.3 1173.6 L193.9 1174.6 L194.6 1175.8 L195.2 1177.3 L195.8 1179.2 L196.5 1181.3 L197.1 1183.5 L197.7 1185.6 L198.4 1187.7 L199.0 1189.5 L199.6 1190.9 L200.3 1191.9 L200.9 1192.7 L201.5 1193.4 L202.2 1194.1 L202.8 1194.7 L203.4 1195.2 L204.1 1195.5 L204.7 1195.6 L205.4 1193.8 L206.1 1191.9 L206.8 1189.9 L207.5 1187.8 L208.2 1185.4 L208.8 1182.7 L209.5 1179.9 L210.2 1177.0 L210.9 1173.9 L211.6 1170.7 L212.3 1167.6 L213.0 1164.4 L213.7 1161.2 L214.4 1158.1 L215.1 1155.2 L215.8 1152.3 L216.5 1149.7 L217.2 1147.2 L217.8 1145.0 L218.5 1143.1 L219.2 1141.5 L219.9 1140.1 L220.6 1138.9 L221.3 1137.8 L221.8 1138.2 L222.3 1138.7 L222.8 1139.4 L223.4 1140.2 L223.9 1141.1 L224.4 1142.0 L224.9 1143.1 L225.4 1144.3 L225.9 1145.9 L226.4 1147.9 L226.9 1150.1 L227.4 1152.4 L228.0 1154.7 L228.5 1156.8 L229.0 1158.7 L229.5 1160.2 L230.0 1161.3 L230.5 1162.1 L231.0 1162.9 L231.6 1163.6 L232.1 1164.3 L232.6 1164.7 L233.1 1165.1 L233.6 1165.2 L234.3 1163.4 L235.0 1161.4 L235.8 1159.4 L236.5 1157.2 L237.2 1154.7 L237.9 1152.0 L238.6 1149.1 L239.4 1146.1 L240.1 1143.0 L240.8 1139.7 L241.5 1136.5 L242.2 1133.2 L243.0 1130.0 L243.7 1126.8 L244.4 1123.8 L245.1 1120.9 L245.9 1118.1 L246.6 1115.6 L247.3 1113.4 L248.0 1111.4 L248.7 1109.8 L249.5 1108.4 L250.2 1107.1 L250.9 1106.0 L251.5 1106.4 L252.1 1106.9 L252.7 1107.5 L253.3 1108.3 L253.9 1109.1 L254.5 1110.0 L255.1 1111.0 L255.7 1112.2 L256.3 1113.7 L256.9 1115.6 L257.5 1117.7 L258.1 1119.9 L258.7 1122.0 L259.3 1124.1 L259.9 1125.9 L260.5 1127.3 L261.1 1128.3 L261.7 1129.1 L262.3 1129.8 L262.9 1130.5 L263.5 1131.1 L264.1 1131.6 L264.7 1131.9 L265.3 1132.0 L266.0 1130.2 L266.7 1128.3 L267.4 1126.3 L268.2 1124.1 L268.9 1121.7 L269.6 1119.1 L270.3 1116.2 L271.0 1113.3 L271.8 1110.2 L272.5 1107.0 L273.2 1103.8 L273.9 1100.6 L274.6 1097.4 L275.3 1094.3 L276.1 1091.3 L276.8 1088.5 L277.5 1085.8 L278.2 1083.4 L278.9 1081.1 L279.6 1079.2 L280.4 1077.6 L281.1 1076.2 L281.8 1075.0 L282.5 1073.9 L283.1 1074.3 L283.7 1074.8 L284.2 1075.5 L284.8 1076.3 L285.4 1077.2 L286.0 1078.2 L286.6 1079.2 L287.1 1080.5 L287.7 1082.2 L288.3 1084.2 L288.9 1086.4 L289.4 1088.7 L290.0 1091.1 L290.6 1093.2 L291.2 1095.1 L291.8 1096.7 L292.3 1097.7 L292.9 1098.6 L293.5 1099.4 L294.1 1100.1 L294.7 1100.7 L295.2 1101.2 L295.8 1101.6 L296.4 1101.7 L297.1 1099.8 L297.8 1097.9 L298.5 1095.9 L299.2 1093.6 L299.9 1091.1 L300.5 1088.4 L301.2 1085.5 L301.9 1082.4 L302.6 1079.3 L303.3 1076.0 L304.0 1072.7 L304.7 1069.4 L305.4 1066.2 L306.1 1063.0 L306.8 1059.9 L307.5 1057.0 L308.2 1054.2 L308.9 1051.7 L309.5 1049.4 L310.2 1047.5 L310.9 1045.8 L311.6 1044.4 L312.3 1043.1 L313.0 1042.0 L313.5 1042.3 L314.1 1042.8 L314.6 1043.4 L315.1 1044.1 L315.6 1044.8 L316.1 1045.7 L316.7 1046.5 L317.2 1047.6 L317.7 1049.0 L318.2 1050.7 L318.8 1052.6 L319.3 1054.6 L319.8 1056.6 L320.4 1058.4 L320.9 1060.0 L321.4 1061.3 L321.9 1062.2 L322.5 1062.9 L323.0 1063.6 L323.5 1064.2 L324.0 1064.8 L324.6 1065.2 L325.1 1065.5 L325.6 1065.6 L326.2 1064.3 L326.9 1062.9 L327.5 1061.4 L328.1 1059.8 L328.8 1058.0 L329.4 1056.0 L330.0 1053.9 L330.7 1051.7 L331.3 1049.4 L331.9 1047.1 L332.6 1044.7 L333.2 1042.3 L333.8 1040.0 L334.5 1037.7 L335.1 1035.4 L335.7 1033.3 L336.4 1031.3 L337.0 1029.5 L337.6 1027.9 L338.3 1026.5 L338.9 1025.3 L339.5 1024.2 L340.2 1023.3 L340.8 1022.5 L341.4 1022.8 L342.0 1023.2 L342.5 1023.6 L343.1 1024.2 L343.7 1024.8 L344.3 1025.5 L344.9 1026.2 L345.4 1027.1 L346.0 1028.3 L346.6 1029.7 L347.2 1031.3 L347.8 1032.9 L348.3 1034.5 L348.9 1036.1 L349.5 1037.4 L350.1 1038.5 L350.6 1039.2 L351.2 1039.8 L351.8 1040.4 L352.4 1040.9 L353.0 1041.3 L353.5 1041.7 L354.1 1041.9 L354.7 1042.0 L355.3 1040.6 L356.0 1039.1 L356.6 1037.5 L357.2 1035.8 L357.9 1033.8 L358.5 1031.8 L359.2 1029.5 L359.8 1027.2 L360.4 1024.7 L361.1 1022.2 L361.7 1019.7 L362.4 1017.1 L363.0 1014.6 L363.6 1012.2 L364.3 1009.8 L364.9 1007.6 L365.5 1005.4 L366.2 1003.5 L366.8 1001.7 L367.4 1000.2 L368.1 998.9 L368.7 997.8 L369.4 996.9 L370.0 996.0 L370.6 996.3 L371.3 996.7 L371.9 997.3 L372.6 997.9 L373.2 998.6 L373.8 999.4 L374.5 1000.2 L375.1 1001.2 L375.7 1002.5 L376.4 1004.1 L377.0 1005.9 L377.6 1007.7 L378.3 1009.6 L378.9 1011.3 L379.6 1012.8 L380.2 1014.0 L380.8 1014.8 L381.5 1015.5 L382.1 1016.2 L382.8 1016.7 L383.4 1017.2 L384.0 1017.6 L384.7 1017.9 L385.3 1018.0 L386.0 1016.5 L386.6 1015.0 L387.3 1013.3 L387.9 1011.5 L388.6 1009.5 L389.2 1007.3 L389.9 1005.0 L390.5 1002.5 L391.2 1000.0 L391.8 997.4 L392.5 994.7 L393.1 992.1 L393.8 989.4 L394.5 986.9 L395.1 984.4 L395.8 982.1 L396.4 979.8 L397.1 977.8 L397.7 976.0 L398.4 974.4 L399.0 973.1 L399.7 971.9 L400.3 970.9 L401.0 970.0 L401.5 970.3 L402.1 970.7 L402.6 971.1 L403.1 971.7 L403.7 972.4 L404.2 973.0 L404.8 973.8 L405.3 974.7 L405.8 975.9 L406.4 977.3 L406.9 978.9 L407.4 980.5 L408.0 982.2 L408.5 983.7 L409.1 985.0 L409.6 986.1 L410.1 986.9 L410.7 987.5 L411.2 988.0 L411.8 988.6 L412.3 989.0 L412.8 989.4 L413.4 989.6 L413.9 989.7 L414.7 988.3 L415.5 986.9 L416.3 985.4 L417.1 983.7 L417.9 981.8 L418.8 979.8 L419.6 977.7 L420.4 975.4 L421.2 973.0 L422.0 970.6 L422.8 968.2 L423.6 965.7 L424.4 963.3 L425.2 960.9 L426.0 958.6 L426.8 956.4 L427.6 954.4 L428.4 952.5 L429.3 950.8 L430.1 949.4 L430.9 948.1 L431.7 947.1 L432.5 946.1 L433.3 945.3 L433.8 945.6 L434.3 946.0 L434.9 946.5 L435.4 947.1 L435.9 947.8 L436.4 948.5 L436.9 949.3 L437.5 950.2 L438.0 951.5 L438.5 953.0 L439.0 954.7 L439.6 956.4 L440.1 958.1 L440.6 959.8 L441.1 961.2 L441.6 962.3 L442.2 963.1 L442.7 963.7 L443.2 964.4 L443.7 964.9 L444.2 965.4 L444.8 965.8 L445.3 966.0 L445.8 966.1 L446.6 964.7 L447.3 963.2 L448.1 961.6 L448.8 959.9 L449.6 958.0 L450.3 955.9 L451.1 953.7 L451.8 951.3 L452.6 948.9 L453.3 946.4 L454.1 943.9 L454.9 941.4 L455.6 938.9 L456.4 936.4 L457.1 934.0 L457.9 931.8 L458.6 929.7 L459.4 927.8 L460.1 926.0 L460.9 924.5 L461.6 923.2 L462.4 922.1 L463.1 921.2 L463.9 920.3 L464.4 920.6 L464.9 921.0 L465.5 921.5 L466.0 922.1 L466.5 922.8 L467.0 923.5 L467.5 924.3 L468.1 925.2 L468.6 926.5 L469.1 928.0 L469.6 929.7 L470.1 931.4 L470.7 933.1 L471.2 934.8 L471.7 936.2 L472.2 937.3 L472.8 938.1 L473.3 938.7 L473.8 939.4 L474.3 939.9 L474.8 940.4 L475.4 940.8 L475.9 941.0 L476.4 941.1 L477.1 939.7 L477.9 938.2 L478.6 936.6 L479.4 934.9 L480.1 933.0 L480.9 930.9 L481.6 928.7 L482.4 926.3 L483.1 923.9 L483.9 921.4 L484.6 918.9 L485.4 916.4 L486.1 913.9 L486.9 911.4 L487.6 909.0 L488.4 906.8 L489.1 904.7 L489.9 902.8 L490.6 901.0 L491.4 899.5 L492.1 898.2 L492.9 897.1 L493.6 896.2 L494.4 895.3 L494.9 895.6 L495.4 896.0 L496.0 896.5 L496.5 897.1 L497.0 897.8 L497.5 898.5 L498.0 899.3 L498.6 900.2 L499.1 901.5 L499.6 903.0 L500.1 904.7 L500.6 906.4 L501.2 908.1 L501.7 909.8 L502.2 911.2 L502.7 912.3 L503.3 913.1 L503.8 913.7 L504.3 914.4 L504.8 914.9 L505.3 915.4 L505.9 915.8 L506.4 916.0 L506.9 916.1 L507.7 914.7 L508.4 913.2 L509.2 911.6 L509.9 909.9 L510.7 908.0 L511.4 905.9 L512.2 903.7 L512.9 901.3 L513.7 898.9 L514.4 896.4 L515.2 893.9 L516.0 891.4 L516.7 888.9 L517.5 886.4 L518.2 884.0 L519.0 881.8 L519.7 879.7 L520.5 877.8 L521.2 876.0 L522.0 874.5 L522.7 873.2 L523.5 872.1 L524.2 871.2 L525.0 870.3 L525.5 870.6 L526.0 870.9 L526.6 871.4 L527.1 872.0 L527.6 872.6 L528.1 873.3 L528.6 874.0 L529.2 874.9 L529.7 876.1 L530.2 877.5 L530.7 879.0 L531.2 880.7 L531.8 882.3 L532.3 883.8 L532.8 885.1 L533.3 886.2 L533.9 886.9 L534.4 887.5 L534.9 888.1 L535.4 888.6 L535.9 889.0 L536.5 889.4 L537.0 889.6 L537.5 889.7 L538.2 888.6 L538.9 887.5 L539.6 886.3 L540.3 885.0 L541.0 883.6 L541.7 882.0 L542.4 880.3 L543.1 878.5 L543.8 876.7 L544.5 874.8 L545.2 872.9 L545.9 871.0 L546.5 869.1 L547.2 867.2 L547.9 865.4 L548.6 863.7 L549.3 862.1 L550.0 860.6 L550.7 859.3 L551.4 858.2 L552.1 857.2 L552.8 856.4 L553.5 855.6 L554.2 855.0 L554.7 855.2 L555.2 855.5 L555.8 855.9 L556.3 856.3 L556.8 856.8 L557.3 857.4 L557.8 857.9 L558.4 858.6 L558.9 859.5 L559.4 860.7 L559.9 861.9 L560.5 863.2 L561.0 864.4 L561.5 865.6 L562.0 866.7 L562.5 867.5 L563.1 868.1 L563.6 868.6 L564.1 869.0 L564.6 869.4 L565.1 869.8 L565.7 870.0 L566.2 870.2 L566.7 870.3 L567.5 869.2 L568.2 868.0 L569.0 866.8 L569.7 865.4 L570.5 863.9 L571.2 862.3 L572.0 860.5 L572.7 858.7 L573.5 856.7 L574.2 854.8 L575.0 852.8 L575.7 850.8 L576.5 848.8 L577.2 846.9 L578.0 845.0 L578.7 843.3 L579.5 841.6 L580.2 840.1 L581.0 838.7 L581.7 837.5 L582.5 836.5 L583.2 835.6 L584.0 834.9 L584.7 834.2 L585.2 834.4 L585.7 834.8 L586.3 835.2 L586.8 835.6 L587.3 836.2 L587.8 836.8 L588.3 837.4 L588.9 838.1 L589.4 839.1 L589.9 840.3 L590.4 841.7 L591.0 843.1 L591.5 844.4 L592.0 845.7 L592.5 846.9 L593.0 847.8 L593.6 848.4 L594.1 848.9 L594.6 849.4 L595.1 849.8 L595.6 850.2 L596.2 850.5 L596.7 850.7 L597.2 850.8 L598.0 849.7 L598.7 848.5 L599.5 847.3 L600.2 845.9 L601.0 844.4 L601.7 842.8 L602.5 841.0 L603.2 839.2 L604.0 837.2 L604.7 835.3 L605.5 833.3 L606.2 831.3 L607.0 829.3 L607.8 827.4 L608.5 825.5 L609.3 823.8 L610.0 822.1 L610.8 820.6 L611.5 819.2 L612.3 818.0 L613.0 817.0 L613.8 816.1 L614.5 815.4 L615.3 814.7 L615.9 814.9 L616.5 815.3 L617.0 815.7 L617.6 816.2 L618.2 816.7 L618.8 817.3 L619.4 817.9 L619.9 818.7 L620.5 819.7 L621.1 820.9 L621.7 822.2 L622.2 823.6 L622.8 825.0 L623.4 826.3 L624.0 827.5 L624.6 828.4 L625.1 829.0 L625.7 829.5 L626.3 830.0 L626.9 830.4 L627.5 830.8 L628.0 831.1 L628.6 831.3 L629.2 831.4 L630.0 830.3 L630.7 829.1 L631.5 827.9 L632.2 826.6 L633.0 825.1 L633.7 823.5 L634.5 821.7 L635.2 819.9 L636.0 818.0 L636.7 816.0 L637.5 814.1 L638.2 812.1 L639.0 810.2 L639.8 808.3 L640.5 806.4 L641.3 804.7 L642.0 803.0 L642.8 801.5 L643.5 800.2 L644.3 799.0 L645.0 798.0 L645.8 797.1 L646.5 796.4 L647.3 795.7 L647.8 795.9 L648.3 796.2 L648.8 796.6 L649.2 797.1 L649.7 797.6 L650.2 798.2 L650.7 798.8 L651.2 799.5 L651.6 800.4 L652.1 801.6 L652.6 802.9 L653.1 804.2 L653.6 805.5 L654.1 806.8 L654.5 807.8 L655.0 808.7 L655.5 809.3 L656.0 809.8 L656.5 810.3 L657.0 810.7 L657.4 811.1 L657.9 811.3 L658.4 811.5 L658.9 811.6 L659.7 810.5 L660.5 809.3 L661.2 808.1 L662.0 806.7 L662.8 805.2 L663.6 803.5 L664.4 801.8 L665.2 799.9 L666.0 798.0 L666.7 796.0 L667.5 794.0 L668.3 792.0 L669.1 790.1 L669.9 788.1 L670.6 786.3 L671.4 784.5 L672.2 782.8 L673.0 781.3 L673.8 779.9 L674.6 778.7 L675.4 777.7 L676.1 776.8 L676.9 776.1 L677.7 775.4 L678.2 775.6 L678.8 775.9 L679.3 776.3 L679.9 776.8 L680.4 777.3 L681.0 777.9 L681.5 778.5 L682.0 779.2 L682.6 780.1 L683.1 781.3 L683.7 782.6 L684.2 783.9 L684.7 785.2 L685.3 786.5 L685.8 787.5 L686.4 788.4 L686.9 789.0 L687.5 789.5 L688.0 790.0 L688.5 790.4 L689.1 790.8 L689.6 791.0 L690.2 791.2 L690.7 791.3 L691.4 790.2 L692.1 789.0 L692.9 787.8 L693.6 786.4 L694.3 784.9 L695.0 783.3 L695.7 781.5 L696.5 779.7 L697.2 777.7 L697.9 775.8 L698.6 773.8 L699.4 771.8 L700.1 769.8 L700.8 767.9 L701.5 766.0 L702.2 764.3 L703.0 762.6 L703.7 761.1 L704.4 759.7 L705.1 758.5 L705.8 757.5 L706.6 756.6 L707.3 755.9 L708.0 755.2 L708.5 755.4 L709.0 755.6 L709.5 756.0 L709.9 756.3 L710.4 756.8 L710.9 757.2 L711.4 757.7 L711.9 758.3 L712.4 759.1 L712.8 760.0 L713.3 761.1 L713.8 762.1 L714.3 763.2 L714.8 764.2 L715.2 765.1 L715.7 765.8 L716.2 766.3 L716.7 766.7 L717.2 767.1 L717.7 767.5 L718.1 767.8 L718.6 768.0 L719.1 768.1 L719.6 768.2 L720.3 767.5 L720.9 766.8 L721.6 766.1 L722.2 765.3 L722.9 764.4 L723.5 763.4 L724.2 762.3 L724.9 761.2 L725.5 760.1 L726.2 758.9 L726.8 757.7 L727.5 756.5 L728.2 755.4 L728.8 754.2 L729.5 753.1 L730.1 752.0 L730.8 751.0 L731.5 750.1 L732.1 749.3 L732.8 748.6 L733.4 748.0 L734.1 747.5 L734.7 747.0 L735.4 746.6 L735.9 746.7 L736.5 746.9 L737.0 747.2 L737.6 747.5 L738.1 747.8 L738.6 748.2 L739.2 748.5 L739.7 749.0 L740.3 749.6 L740.8 750.3 L741.4 751.1 L741.9 752.0 L742.4 752.8 L743.0 753.6 L743.5 754.3 L744.1 754.9 L744.6 755.2 L745.1 755.6 L745.7 755.9 L746.2 756.1 L746.8 756.4 L747.3 756.5 L747.9 756.7 L748.4 756.7 L749.1 755.9 L749.9 755.1 L750.6 754.3 L751.3 753.4 L752.0 752.3 L752.8 751.2 L753.5 750.0 L754.2 748.8 L754.9 747.5 L755.6 746.1 L756.4 744.8 L757.1 743.4 L757.8 742.1 L758.5 740.8 L759.3 739.5 L760.0 738.3 L760.7 737.1 L761.4 736.1 L762.2 735.2 L762.9 734.4 L763.6 733.7 L764.3 733.1 L765.1 732.6 L765.8 732.1 L766.3 732.3 L766.9 732.5 L767.4 732.8 L768.0 733.1 L768.5 733.5 L769.0 733.9 L769.6 734.3 L770.1 734.8 L770.7 735.5 L771.2 736.4 L771.8 737.3 L772.3 738.3 L772.8 739.3 L773.4 740.2 L773.9 741.0 L774.5 741.6 L775.0 742.0 L775.5 742.4 L776.1 742.7 L776.6 743.0 L777.2 743.3 L777.7 743.5 L778.3 743.6 L778.8 743.7 L779.5 742.9 L780.2 742.1 L781.0 741.3 L781.7 740.4 L782.4 739.3 L783.1 738.2 L783.8 737.0 L784.6 735.8 L785.3 734.5 L786.0 733.1 L786.7 731.8 L787.5 730.4 L788.2 729.1 L788.9 727.8 L789.6 726.5 L790.3 725.3 L791.1 724.1 L791.8 723.1 L792.5 722.2 L793.2 721.4 L793.9 720.7 L794.7 720.1 L795.4 719.6 L796.1 719.1 L796.6 719.3 L797.2 719.5 L797.7 719.8 L798.3 720.1 L798.8 720.5 L799.4 720.9 L799.9 721.3 L800.4 721.8 L801.0 722.5 L801.5 723.4 L802.1 724.3 L802.6 725.3 L803.1 726.3 L803.7 727.2 L804.2 728.0 L804.8 728.6 L805.3 729.0 L805.9 729.4 L806.4 729.7 L806.9 730.0 L807.5 730.3 L808.0 730.5 L808.6 730.6 L809.1 730.7 L809.9 729.9 L810.7 729.0 L811.5 728.2 L812.2 727.2 L813.0 726.1 L813.8 724.9 L814.6 723.6 L815.4 722.3 L816.1 720.9 L816.9 719.5 L817.7 718.1 L818.5 716.7 L819.3 715.2 L820.1 713.8 L820.9 712.5 L821.6 711.2 L822.4 710.0 L823.2 708.9 L824.0 707.9 L824.8 707.1 L825.5 706.4 L826.3 705.7 L827.1 705.2 L827.9 704.7 L828.4 704.9 L828.9 705.1 L829.3 705.4 L829.8 705.7 L830.3 706.1 L830.8 706.5 L831.3 706.9 L831.7 707.4 L832.2 708.1 L832.7 709.0 L833.2 709.9 L833.6 710.8 L834.1 711.8 L834.6 712.7 L835.1 713.5 L835.6 714.1 L836.0 714.5 L836.5 714.9 L837.0 715.2 L837.5 715.5 L838.0 715.8 L838.4 716.0 L838.9 716.1 L839.4 716.2 L840.2 715.4 L841.1 714.5 L841.9 713.7 L842.8 712.7 L843.6 711.6 L844.5 710.4 L845.3 709.1 L846.2 707.8 L847.0 706.4 L847.9 705.0 L848.7 703.6 L849.5 702.2 L850.4 700.7 L851.2 699.3 L852.1 698.0 L852.9 696.7 L853.8 695.5 L854.6 694.4 L855.5 693.4 L856.3 692.6 L857.2 691.9 L858.0 691.2 L858.9 690.7 L859.7 690.2 L860.2 690.3 L860.7 690.5 L861.1 690.7 L861.6 691.0 L862.1 691.2 L862.6 691.5 L863.1 691.9 L863.5 692.3 L864.0 692.8 L864.5 693.4 L865.0 694.1 L865.5 694.8 L865.9 695.6 L866.4 696.2 L866.9 696.8 L867.4 697.3 L867.8 697.6 L868.3 697.9 L868.8 698.2 L869.3 698.4 L869.8 698.6 L870.2 698.8 L870.7 698.9 L871.2 698.9 L871.7 698.4 L872.2 697.8 L872.7 697.2 L873.2 696.6 L873.7 695.8 L874.2 695.0 L874.6 694.2 L875.1 693.3 L875.6 692.4 L876.1 691.5 L876.6 690.5 L877.1 689.6 L877.6 688.6 L878.1 687.7 L878.6 686.8 L879.1 685.9 L879.6 685.1 L880.0 684.4 L880.5 683.8 L881.0 683.2 L881.5 682.7 L882.0 682.3 L882.5 681.9 L883.0 681.6" stroke="#D84B12" stroke-width="8.00" fill="none" stroke-linejoin="round" stroke-linecap="round"/>
</g>
<g filter="url(#blt)">
<rect x="380.1" y="1073.9" width="459.2" height="115.4" fill="#fff" stroke="#777777" stroke-width="2.8" stroke-linejoin="round"/>
</g>
<g filter="url(#blg)">
<line x1="394" y1="1105.9" x2="535.3" y2="1105.9" stroke="#0068B8" stroke-width="9.80" stroke-dasharray="37 10.5 18 10.5"/>
<line x1="394" y1="1157.4" x2="535.5" y2="1157.4" stroke="#D84B12" stroke-width="9.80"/>
</g>
<g filter="url(#blt)">
<text transform="translate(546.00 1122.50) scale(1.000 1.030)" font-size="37.78" letter-spacing="0.30" stroke="#1e1e1e" stroke-width="0.75" fill="#1e1e1e">Data</text>
<text transform="translate(546.00 1173.00) scale(1.000 1.030)" font-size="37.78" letter-spacing="0.10" stroke="#1e1e1e" stroke-width="0.75" fill="#1e1e1e">Classic Model fit</text>
<text transform="translate(7.00 1432.00)" font-size="60.00" letter-spacing="1.80" fill="#000" font-family="'Liberation Serif', 'Times New Roman', serif">c)</text>
<path d="M177.3 1961.5V1955.0M177.3 1428.0V1434.5M307.3 1961.5V1955.0M307.3 1428.0V1434.5M437.3 1961.5V1955.0M437.3 1428.0V1434.5M567.2 1961.5V1955.0M567.2 1428.0V1434.5M697.2 1961.5V1955.0M697.2 1428.0V1434.5M827.2 1961.5V1955.0M827.2 1428.0V1434.5M178.0 1961.5H184.5M892.0 1961.5H885.5M178.0 1783.7H184.5M892.0 1783.7H885.5M178.0 1605.8H184.5M892.0 1605.8H885.5M178.0 1428.0H184.5M892.0 1428.0H885.5" stroke="#4a4a4a" stroke-width="2.40" fill="none"/>
<text transform="translate(177.74 2021.20) scale(1.000 1.020)" font-size="41.97" letter-spacing="0.87" stroke="#2a2a2a" stroke-width="0.35" text-anchor="middle" fill="#2a2a2a">0</text>
<text transform="translate(307.72 2021.20) scale(1.000 1.020)" font-size="41.97" letter-spacing="0.87" stroke="#2a2a2a" stroke-width="0.35" text-anchor="middle" fill="#2a2a2a">1000</text>
<text transform="translate(437.70 2021.20) scale(1.000 1.020)" font-size="41.97" letter-spacing="0.87" stroke="#2a2a2a" stroke-width="0.35" text-anchor="middle" fill="#2a2a2a">2000</text>
<text transform="translate(567.68 2021.20) scale(1.000 1.020)" font-size="41.97" letter-spacing="0.87" stroke="#2a2a2a" stroke-width="0.35" text-anchor="middle" fill="#2a2a2a">3000</text>
<text transform="translate(697.66 2021.20) scale(1.000 1.020)" font-size="41.97" letter-spacing="0.87" stroke="#2a2a2a" stroke-width="0.35" text-anchor="middle" fill="#2a2a2a">4000</text>
<text transform="translate(827.65 2021.20) scale(1.000 1.020)" font-size="41.97" letter-spacing="0.87" stroke="#2a2a2a" stroke-width="0.35" text-anchor="middle" fill="#2a2a2a">5000</text>
<text transform="translate(161.67 1980.50) scale(1.000 1.020)" font-size="41.97" letter-spacing="0.87" stroke="#2a2a2a" stroke-width="0.35" text-anchor="end" fill="#2a2a2a">0</text>
<text transform="translate(161.67 1802.67) scale(1.000 1.020)" font-size="41.97" letter-spacing="0.87" stroke="#2a2a2a" stroke-width="0.35" text-anchor="end" fill="#2a2a2a">1000</text>
<text transform="translate(161.67 1624.83) scale(1.000 1.020)" font-size="41.97" letter-spacing="0.87" stroke="#2a2a2a" stroke-width="0.35" text-anchor="end" fill="#2a2a2a">2000</text>
<text transform="translate(161.67 1447.00) scale(1.000 1.020)" font-size="41.97" letter-spacing="0.87" stroke="#2a2a2a" stroke-width="0.35" text-anchor="end" fill="#2a2a2a">3000</text>
<text transform="translate(534.60 2080.40) scale(1.000 0.975)" font-size="46.70" stroke="#2a2a2a" stroke-width="0.35" text-anchor="middle" fill="#2a2a2a">Time (min)</text>
<text transform="translate(43.50 1697.25) rotate(-90) scale(1.000 1.040)" font-size="47.42" stroke="#2a2a2a" stroke-width="0.35" text-anchor="middle" fill="#2a2a2a">Charge (C)</text>
<rect x="178.0" y="1428.0" width="714.0" height="533.5" fill="none" stroke="#777777" stroke-width="3" stroke-linejoin="round"/>
</g>
<g filter="url(#blg)">
<path d="M178.2 1963.3 L178.8 1932.3 L179.3 1907.0 L179.9 1889.3 L180.4 1874.7 L181.0 1863.5 L181.5 1856.9 L182.1 1852.5 L182.6 1848.9 L183.2 1845.9 L183.8 1843.4 L184.3 1841.2 L184.9 1839.2 L185.4 1837.1 L186.0 1835.2 L186.5 1833.2 L187.1 1831.3 L187.6 1829.6 L188.2 1827.9 L188.7 1826.4 L189.3 1825.0 L189.9 1823.7 L190.4 1822.7 L191.0 1821.8 L191.5 1821.1 L192.0 1828.0 L192.5 1836.6 L193.0 1848.2 L193.5 1859.5 L193.9 1869.3 L194.4 1877.0 L194.9 1882.3 L195.4 1884.6 L195.9 1886.4 L196.4 1887.8 L196.8 1889.0 L197.3 1889.9 L197.8 1890.6 L198.3 1891.2 L198.8 1891.8 L199.3 1892.3 L199.7 1892.8 L200.2 1893.3 L200.7 1893.7 L201.2 1894.0 L201.7 1894.3 L202.2 1894.5 L202.7 1894.7 L203.1 1894.7 L204.0 1894.6 L204.8 1894.2 L205.6 1893.8 L206.5 1893.2 L207.3 1892.4 L208.2 1891.2 L209.0 1889.4 L209.8 1885.3 L210.7 1875.9 L211.5 1851.7 L212.3 1828.3 L213.2 1817.1 L214.0 1810.1 L214.9 1804.9 L215.7 1800.0 L216.5 1795.5 L217.4 1791.3 L218.2 1787.5 L219.0 1784.0 L219.9 1780.6 L220.7 1777.4 L221.6 1774.4 L222.4 1771.7 L223.2 1769.1 L223.7 1776.0 L224.1 1784.8 L224.6 1796.5 L225.0 1808.0 L225.5 1817.8 L225.9 1825.7 L226.3 1831.1 L226.8 1833.4 L227.2 1835.2 L227.7 1836.6 L228.1 1837.8 L228.6 1838.7 L229.0 1839.4 L229.5 1840.0 L229.9 1840.6 L230.4 1841.2 L230.8 1841.7 L231.3 1842.1 L231.7 1842.5 L232.1 1842.9 L232.6 1843.2 L233.0 1843.4 L233.5 1843.5 L233.9 1843.6 L234.8 1843.5 L235.6 1843.1 L236.4 1842.6 L237.2 1842.1 L238.1 1841.3 L238.9 1840.0 L239.7 1838.2 L240.5 1834.1 L241.3 1824.6 L242.2 1800.2 L243.0 1776.5 L243.8 1765.1 L244.6 1758.1 L245.5 1752.8 L246.3 1747.9 L247.1 1743.3 L247.9 1739.1 L248.8 1735.2 L249.6 1731.7 L250.4 1728.3 L251.2 1725.0 L252.1 1722.0 L252.9 1719.2 L253.7 1716.6 L254.3 1723.7 L254.8 1732.5 L255.4 1744.4 L256.0 1756.1 L256.5 1766.1 L257.1 1774.1 L257.6 1779.5 L258.2 1781.9 L258.8 1783.7 L259.3 1785.2 L259.9 1786.4 L260.4 1787.3 L261.0 1788.0 L261.6 1788.7 L262.1 1789.2 L262.7 1789.8 L263.2 1790.3 L263.8 1790.8 L264.3 1791.2 L264.9 1791.5 L265.5 1791.8 L266.0 1792.1 L266.6 1792.2 L267.1 1792.2 L267.9 1792.1 L268.6 1791.8 L269.4 1791.3 L270.1 1790.8 L270.9 1790.0 L271.6 1788.8 L272.4 1787.0 L273.1 1783.0 L273.9 1773.8 L274.6 1750.2 L275.4 1727.3 L276.1 1716.3 L276.9 1709.5 L277.6 1704.4 L278.4 1699.6 L279.1 1695.1 L279.9 1691.1 L280.6 1687.4 L281.4 1683.9 L282.1 1680.6 L282.9 1677.5 L283.6 1674.6 L284.4 1671.9 L285.1 1669.4 L285.6 1675.9 L286.2 1684.2 L286.7 1695.3 L287.2 1706.2 L287.7 1715.5 L288.2 1723.0 L288.8 1728.0 L289.3 1730.2 L289.8 1731.9 L290.3 1733.3 L290.9 1734.4 L291.4 1735.3 L291.9 1736.0 L292.4 1736.5 L292.9 1737.1 L293.5 1737.6 L294.0 1738.1 L294.5 1738.5 L295.0 1738.9 L295.5 1739.2 L296.1 1739.5 L296.6 1739.7 L297.1 1739.8 L297.6 1739.9 L298.4 1739.7 L299.1 1739.4 L299.9 1738.9 L300.6 1738.4 L301.4 1737.6 L302.1 1736.4 L302.9 1734.6 L303.6 1730.5 L304.4 1721.1 L305.1 1697.1 L305.9 1673.7 L306.6 1662.5 L307.4 1655.6 L308.1 1650.4 L308.9 1645.5 L309.6 1641.0 L310.4 1636.9 L311.1 1633.1 L311.9 1629.6 L312.6 1626.2 L313.4 1623.0 L314.1 1620.0 L314.9 1617.3 L315.6 1614.7 L316.1 1621.7 L316.6 1630.5 L317.1 1642.2 L317.6 1653.7 L318.1 1663.6 L318.6 1671.5 L319.1 1676.9 L319.5 1679.2 L320.0 1681.0 L320.5 1682.5 L321.0 1683.6 L321.5 1684.5 L322.0 1685.3 L322.5 1685.9 L323.0 1686.5 L323.5 1687.0 L324.0 1687.5 L324.5 1688.0 L325.0 1688.4 L325.4 1688.7 L325.9 1689.0 L326.4 1689.3 L326.9 1689.4 L327.4 1689.4 L328.1 1689.4 L328.8 1689.1 L329.5 1688.8 L330.1 1688.5 L330.8 1688.0 L331.5 1687.2 L332.2 1686.0 L332.8 1683.5 L333.5 1677.5 L334.2 1662.1 L334.9 1647.1 L335.5 1640.0 L336.2 1635.6 L336.9 1632.2 L337.6 1629.1 L338.3 1626.2 L338.9 1623.6 L339.6 1621.1 L340.3 1618.9 L341.0 1616.7 L341.6 1614.7 L342.3 1612.8 L343.0 1611.0 L343.7 1609.4 L344.2 1609.5 L344.7 1609.9 L345.3 1610.5 L345.8 1611.4 L346.4 1612.7 L346.9 1618.8 L347.4 1627.6 L348.0 1635.9 L348.5 1645.4 L349.1 1653.6 L349.6 1657.8 L350.1 1659.9 L350.7 1661.6 L351.2 1662.9 L351.7 1663.8 L352.3 1664.2 L352.8 1664.6 L353.4 1664.9 L353.9 1665.1 L354.4 1665.3 L355.0 1665.5 L355.5 1665.6 L356.1 1665.7 L356.6 1665.8 L357.4 1665.7 L358.1 1665.4 L358.9 1665.0 L359.7 1664.4 L360.4 1663.6 L361.2 1661.4 L362.0 1655.9 L362.7 1649.3 L363.5 1641.4 L364.3 1632.0 L365.0 1623.0 L365.8 1616.4 L366.5 1611.9 L367.3 1607.9 L368.1 1604.3 L368.8 1601.1 L369.6 1598.4 L370.4 1595.9 L371.1 1593.7 L371.9 1591.8 L372.7 1590.0 L373.4 1588.5 L374.2 1587.2 L375.0 1586.2 L375.5 1586.3 L376.0 1586.7 L376.6 1587.2 L377.1 1588.1 L377.7 1589.3 L378.2 1595.4 L378.7 1603.9 L379.3 1612.0 L379.8 1621.3 L380.4 1629.3 L380.9 1633.4 L381.4 1635.5 L382.0 1637.2 L382.5 1638.4 L383.0 1639.2 L383.6 1639.7 L384.1 1640.0 L384.7 1640.3 L385.2 1640.5 L385.7 1640.8 L386.3 1640.9 L386.8 1641.1 L387.4 1641.1 L387.9 1641.2 L388.7 1641.1 L389.5 1640.8 L390.2 1640.4 L391.0 1639.8 L391.8 1639.0 L392.6 1636.8 L393.3 1631.1 L394.1 1624.5 L394.9 1616.5 L395.7 1607.0 L396.5 1597.9 L397.2 1591.2 L398.0 1586.6 L398.8 1582.5 L399.6 1578.9 L400.3 1575.7 L401.1 1572.9 L401.9 1570.4 L402.7 1568.2 L403.5 1566.3 L404.2 1564.5 L405.0 1562.9 L405.8 1561.6 L406.6 1560.6 L407.1 1560.7 L407.6 1561.0 L408.1 1561.6 L408.6 1562.4 L409.1 1563.7 L409.6 1569.7 L410.1 1578.1 L410.6 1586.2 L411.1 1595.3 L411.6 1603.2 L412.1 1607.3 L412.6 1609.4 L413.1 1611.0 L413.6 1612.2 L414.1 1613.1 L414.6 1613.5 L415.2 1613.8 L415.7 1614.1 L416.2 1614.4 L416.7 1614.6 L417.2 1614.7 L417.7 1614.9 L418.2 1614.9 L418.7 1615.0 L419.5 1614.9 L420.3 1614.6 L421.0 1614.2 L421.8 1613.6 L422.6 1612.9 L423.4 1610.7 L424.2 1605.2 L425.0 1598.7 L425.8 1590.9 L426.6 1581.6 L427.3 1572.8 L428.1 1566.2 L428.9 1561.7 L429.7 1557.7 L430.5 1554.2 L431.3 1551.1 L432.1 1548.4 L432.8 1545.9 L433.6 1543.8 L434.4 1541.9 L435.2 1540.1 L436.0 1538.6 L436.8 1537.3 L437.6 1536.3 L438.1 1536.4 L438.6 1536.8 L439.1 1537.3 L439.6 1538.1 L440.1 1539.3 L440.6 1544.9 L441.1 1552.9 L441.6 1560.5 L442.1 1569.2 L442.6 1576.6 L443.1 1580.5 L443.6 1582.5 L444.1 1584.0 L444.6 1585.2 L445.1 1586.0 L445.6 1586.4 L446.1 1586.7 L446.7 1587.0 L447.2 1587.2 L447.7 1587.4 L448.2 1587.6 L448.7 1587.7 L449.2 1587.7 L449.7 1587.8 L450.5 1587.7 L451.3 1587.4 L452.0 1587.0 L452.8 1586.4 L453.6 1585.7 L454.4 1583.5 L455.2 1578.0 L456.0 1571.5 L456.8 1563.7 L457.5 1554.4 L458.3 1545.6 L459.1 1539.0 L459.9 1534.5 L460.7 1530.5 L461.5 1527.0 L462.3 1523.9 L463.1 1521.1 L463.8 1518.7 L464.6 1516.6 L465.4 1514.7 L466.2 1512.9 L467.0 1511.4 L467.8 1510.1 L468.6 1509.1 L469.1 1509.2 L469.6 1509.6 L470.1 1510.1 L470.6 1510.9 L471.1 1512.2 L471.6 1518.0 L472.1 1526.2 L472.6 1534.0 L473.1 1543.0 L473.6 1550.6 L474.1 1554.6 L474.6 1556.6 L475.1 1558.2 L475.6 1559.4 L476.1 1560.2 L476.6 1560.6 L477.1 1560.9 L477.6 1561.2 L478.2 1561.5 L478.7 1561.7 L479.2 1561.8 L479.7 1561.9 L480.2 1562.0 L480.7 1562.0 L481.5 1562.0 L482.2 1561.7 L483.0 1561.3 L483.8 1560.7 L484.6 1560.0 L485.4 1557.9 L486.2 1552.6 L486.9 1546.4 L487.7 1538.9 L488.5 1530.0 L489.3 1521.5 L490.1 1515.2 L490.8 1510.9 L491.6 1507.0 L492.4 1503.6 L493.2 1500.7 L494.0 1498.0 L494.8 1495.7 L495.5 1493.6 L496.3 1491.8 L497.1 1490.1 L497.9 1488.6 L498.7 1487.4 L499.5 1486.4 L500.0 1486.5 L500.6 1486.9 L501.1 1487.4 L501.7 1488.1 L502.3 1489.2 L502.8 1494.5 L503.4 1502.0 L504.0 1509.2 L504.5 1517.4 L505.1 1524.4 L505.7 1528.0 L506.2 1529.8 L506.8 1531.3 L507.3 1532.4 L507.9 1533.1 L508.5 1533.5 L509.0 1533.8 L509.6 1534.1 L510.2 1534.3 L510.7 1534.5 L511.3 1534.6 L511.9 1534.8 L512.4 1534.8 L513.0 1534.8 L513.7 1534.8 L514.4 1534.5 L515.0 1534.1 L515.7 1533.5 L516.4 1532.7 L517.1 1530.6 L517.8 1525.1 L518.5 1518.7 L519.2 1510.9 L519.8 1501.7 L520.5 1492.9 L521.2 1486.4 L521.9 1481.9 L522.6 1477.9 L523.3 1474.4 L524.0 1471.3 L524.6 1468.6 L525.3 1466.2 L526.0 1464.1 L526.7 1462.2 L527.4 1460.4 L528.1 1458.9 L528.8 1457.6 L529.4 1456.6 L529.9 1456.7 L530.4 1457.0 L530.9 1457.5 L531.4 1458.2 L531.9 1459.2 L532.3 1464.2 L532.8 1471.3 L533.3 1478.0 L533.8 1485.6 L534.3 1492.2 L534.8 1495.6 L535.2 1497.3 L535.7 1498.7 L536.2 1499.7 L536.7 1500.4 L537.2 1500.7 L537.7 1501.0 L538.1 1501.3 L538.6 1501.5 L539.1 1501.6 L539.6 1501.8 L540.1 1501.9 L540.6 1502.0 L541.1 1502.0 L541.7 1501.9 L542.3 1501.7 L542.9 1501.4 L543.6 1500.9 L544.2 1500.2 L544.8 1499.5 L545.5 1497.8 L546.1 1493.6 L546.7 1486.8 L547.4 1473.3 L548.0 1469.5 L548.6 1467.1 L549.3 1465.6 L549.9 1464.6 L550.5 1463.8 L551.1 1463.1 L551.8 1462.5 L552.4 1462.0 L553.0 1461.7 L553.7 1461.5 L554.3 1461.5 L554.9 1461.5 L555.6 1461.5 L556.2 1461.5 L556.9 1461.5 L557.5 1461.7 L558.2 1461.9 L558.9 1462.3 L559.6 1462.8 L560.2 1463.5 L560.9 1464.4 L561.6 1471.5 L562.3 1480.5 L562.9 1488.0 L563.6 1491.8 L564.3 1493.4 L564.9 1494.8 L565.6 1495.9 L566.3 1496.8 L567.0 1497.6 L567.6 1498.2 L568.3 1498.7 L569.0 1499.2 L569.7 1499.6 L570.3 1500.0 L571.0 1500.4 L571.7 1500.7 L572.3 1500.8 L573.0 1500.8 L573.7 1500.5 L574.4 1500.1 L575.1 1499.6 L575.8 1498.9 L576.4 1498.0 L577.1 1496.1 L577.8 1491.3 L578.5 1483.6 L579.2 1468.3 L579.8 1464.0 L580.5 1461.2 L581.2 1459.6 L581.9 1458.5 L582.6 1457.5 L583.3 1456.7 L583.9 1456.0 L584.6 1455.5 L585.3 1455.1 L586.0 1455.0 L586.7 1454.9 L587.3 1454.9 L588.0 1454.9 L588.7 1454.9 L589.3 1455.0 L589.9 1455.1 L590.6 1455.3 L591.2 1455.7 L591.8 1456.3 L592.4 1457.0 L593.1 1457.9 L593.7 1465.0 L594.3 1474.1 L594.9 1481.7 L595.6 1485.5 L596.2 1487.1 L596.8 1488.5 L597.4 1489.7 L598.0 1490.6 L598.7 1491.3 L599.3 1491.9 L599.9 1492.4 L600.5 1492.9 L601.2 1493.4 L601.8 1493.8 L602.4 1494.2 L603.0 1494.4 L603.6 1494.6 L604.3 1494.5 L605.0 1494.3 L605.7 1493.9 L606.4 1493.4 L607.1 1492.7 L607.7 1491.9 L608.4 1490.1 L609.1 1485.5 L609.8 1478.3 L610.5 1463.7 L611.1 1459.6 L611.8 1457.0 L612.5 1455.4 L613.2 1454.3 L613.9 1453.5 L614.5 1452.7 L615.2 1452.0 L615.9 1451.5 L616.6 1451.2 L617.3 1451.0 L618.0 1451.0 L618.6 1451.0 L619.3 1451.0 L620.0 1451.0 L620.7 1451.0 L621.3 1451.1 L622.0 1451.4 L622.6 1451.8 L623.3 1452.3 L623.9 1453.0 L624.6 1453.9 L625.3 1461.0 L625.9 1470.0 L626.6 1477.5 L627.2 1481.2 L627.9 1482.9 L628.5 1484.3 L629.2 1485.4 L629.8 1486.3 L630.5 1487.0 L631.2 1487.6 L631.8 1488.2 L632.5 1488.6 L633.1 1489.1 L633.8 1489.5 L634.4 1489.9 L635.1 1490.1 L635.8 1490.3 L636.3 1490.2 L636.9 1490.0 L637.5 1489.6 L638.1 1489.1 L638.7 1488.4 L639.3 1487.6 L639.9 1485.8 L640.5 1481.3 L641.1 1474.0 L641.6 1459.4 L642.2 1455.4 L642.8 1452.8 L643.4 1451.2 L644.0 1450.1 L644.6 1449.3 L645.2 1448.5 L645.8 1447.8 L646.4 1447.3 L646.9 1447.0 L647.5 1446.8 L648.1 1446.8 L648.7 1446.8 L649.3 1446.8 L649.9 1446.8 L650.6 1446.8 L651.3 1446.9 L652.0 1447.2 L652.6 1447.6 L653.3 1448.1 L654.0 1448.8 L654.7 1449.7 L655.4 1456.9 L656.1 1466.0 L656.8 1473.5 L657.5 1477.3 L658.2 1479.0 L658.9 1480.4 L659.5 1481.5 L660.2 1482.4 L660.9 1483.2 L661.6 1483.8 L662.3 1484.3 L663.0 1484.8 L663.7 1485.2 L664.4 1485.6 L665.1 1486.0 L665.8 1486.3 L666.4 1486.4 L667.1 1486.4 L667.8 1486.1 L668.5 1485.8 L669.2 1485.2 L669.9 1484.5 L670.6 1483.7 L671.2 1481.8 L671.9 1477.1 L672.6 1469.6 L673.3 1454.6 L674.0 1450.4 L674.7 1447.7 L675.4 1446.1 L676.0 1445.0 L676.7 1444.1 L677.4 1443.3 L678.1 1442.6 L678.8 1442.1 L679.5 1441.8 L680.2 1441.6 L680.8 1441.6 L681.5 1441.6 L682.2 1441.6 L682.9 1441.6 L683.5 1441.6 L684.1 1441.7 L684.7 1442.0 L685.3 1442.4 L685.8 1442.9 L686.4 1443.6 L687.0 1444.5 L687.6 1451.7 L688.2 1460.8 L688.8 1468.3 L689.4 1472.1 L690.0 1473.8 L690.6 1475.2 L691.1 1476.3 L691.7 1477.2 L692.3 1477.9 L692.9 1478.6 L693.5 1479.1 L694.1 1479.5 L694.7 1480.0 L695.3 1480.4 L695.9 1480.8 L696.4 1481.1 L697.0 1481.2 L697.6 1481.2 L698.3 1480.9 L698.9 1480.5 L699.5 1479.9 L700.1 1479.2 L700.7 1478.3 L701.3 1476.3 L701.9 1471.4 L702.5 1463.4 L703.1 1447.6 L703.7 1443.1 L704.4 1440.3 L705.0 1438.5 L705.6 1437.4 L706.2 1436.4 L706.8 1435.6 L707.4 1434.9 L708.0 1434.3 L708.6 1433.9 L709.2 1433.8 L709.8 1433.7 L710.5 1433.7 L711.1 1433.7 L711.7 1433.7 L712.2 1433.8 L712.7 1433.9 L713.3 1434.2 L713.8 1434.6 L714.3 1435.1 L714.9 1435.9 L715.4 1436.9 L715.9 1444.4 L716.5 1453.9 L717.0 1461.9 L717.6 1465.8 L718.1 1467.6 L718.6 1469.1 L719.2 1470.3 L719.7 1471.2 L720.2 1472.0 L720.8 1472.6 L721.3 1473.2 L721.8 1473.7 L722.4 1474.2 L722.9 1474.6 L723.4 1475.0 L724.0 1475.3 L724.5 1475.5 L725.1 1475.4 L725.7 1475.3 L726.3 1475.0 L726.9 1474.7 L727.5 1474.3 L728.2 1473.8 L728.8 1472.7 L729.4 1469.9 L730.0 1465.5 L730.6 1456.7 L731.2 1454.2 L731.8 1452.6 L732.4 1451.6 L733.0 1451.0 L733.6 1450.4 L734.3 1450.0 L734.9 1449.6 L735.5 1449.3 L736.1 1449.0 L736.7 1448.9 L737.3 1448.9 L737.9 1448.9 L738.5 1448.9 L739.1 1448.9 L739.8 1449.0 L740.4 1449.0 L741.1 1449.2 L741.7 1449.5 L742.4 1449.9 L743.0 1450.4 L743.7 1451.0 L744.4 1456.0 L745.0 1462.4 L745.7 1467.7 L746.3 1470.3 L747.0 1471.5 L747.6 1472.4 L748.3 1473.2 L748.9 1473.9 L749.6 1474.4 L750.2 1474.8 L750.9 1475.2 L751.5 1475.5 L752.2 1475.8 L752.8 1476.1 L753.5 1476.4 L754.1 1476.6 L754.8 1476.7 L755.4 1476.7 L756.1 1476.5 L756.8 1476.3 L757.4 1475.9 L758.1 1475.5 L758.7 1475.0 L759.4 1473.8 L760.0 1470.9 L760.7 1466.3 L761.3 1457.0 L762.0 1454.4 L762.7 1452.7 L763.3 1451.7 L764.0 1451.1 L764.6 1450.5 L765.3 1450.0 L765.9 1449.6 L766.6 1449.3 L767.3 1449.0 L767.9 1448.9 L768.6 1448.9 L769.2 1448.9 L769.9 1448.9 L770.5 1448.9 L771.1 1449.0 L771.7 1449.1 L772.4 1449.2 L773.0 1449.5 L773.6 1449.9 L774.2 1450.4 L774.8 1451.1 L775.4 1456.3 L776.0 1463.0 L776.6 1468.5 L777.2 1471.3 L777.8 1472.5 L778.4 1473.5 L779.0 1474.3 L779.6 1475.0 L780.2 1475.5 L780.8 1476.0 L781.4 1476.4 L782.0 1476.7 L782.6 1477.1 L783.3 1477.4 L783.9 1477.6 L784.5 1477.8 L785.1 1477.9 L785.7 1477.9 L786.4 1477.7 L787.0 1477.5 L787.7 1477.2 L788.4 1476.7 L789.0 1476.1 L789.7 1474.9 L790.3 1471.9 L791.0 1467.1 L791.6 1457.4 L792.3 1454.7 L792.9 1452.9 L793.6 1451.9 L794.3 1451.2 L794.9 1450.6 L795.6 1450.1 L796.2 1449.6 L796.9 1449.3 L797.5 1449.1 L798.2 1448.9 L798.9 1448.9 L799.5 1448.9 L800.2 1448.9 L800.8 1448.9 L801.4 1449.0 L802.0 1449.1 L802.6 1449.2 L803.2 1449.5 L803.9 1449.9 L804.5 1450.4 L805.1 1451.1 L805.7 1456.3 L806.3 1463.0 L806.9 1468.5 L807.5 1471.3 L808.1 1472.5 L808.7 1473.5 L809.3 1474.3 L809.9 1475.0 L810.5 1475.5 L811.1 1476.0 L811.7 1476.4 L812.3 1476.7 L812.9 1477.1 L813.5 1477.4 L814.1 1477.6 L814.8 1477.8 L815.4 1477.9 L816.0 1477.9 L816.6 1477.8 L817.2 1477.5 L817.8 1477.2 L818.4 1476.8 L819.0 1476.2 L819.6 1475.1 L820.2 1472.2 L820.8 1467.5 L821.5 1458.3 L822.1 1455.7 L822.7 1454.0 L823.3 1453.0 L823.9 1452.3 L824.5 1451.8 L825.1 1451.3 L825.7 1450.8 L826.3 1450.5 L826.9 1450.3 L827.6 1450.2 L828.2 1450.2 L828.8 1450.2 L829.4 1450.2 L830.0 1450.2 L830.7 1450.2 L831.3 1450.3 L832.0 1450.5 L832.6 1450.8 L833.3 1451.1 L833.9 1451.7 L834.6 1452.3 L835.2 1457.6 L835.9 1464.2 L836.5 1469.7 L837.2 1472.5 L837.8 1473.7 L838.5 1474.7 L839.1 1475.6 L839.8 1476.2 L840.4 1476.8 L841.1 1477.2 L841.7 1477.6 L842.4 1478.0 L843.0 1478.3 L843.7 1478.6 L844.3 1478.9 L845.0 1479.1 L845.6 1479.2 L846.3 1479.1 L847.0 1479.0 L847.6 1478.8 L848.3 1478.4 L848.9 1478.0 L849.6 1477.4 L850.2 1476.2 L850.9 1473.2 L851.6 1468.3 L852.2 1458.6 L852.9 1455.9 L853.5 1454.2 L854.2 1453.1 L854.8 1452.4 L855.5 1451.8 L856.1 1451.3 L856.8 1450.9 L857.5 1450.5 L858.1 1450.3 L858.8 1450.2 L859.4 1450.2 L860.1 1450.2 L860.7 1450.2 L861.4 1450.2 L862.1 1450.2 L862.9 1450.3 L863.6 1450.5 L864.4 1450.8 L865.1 1451.1 L865.9 1451.7 L866.6 1452.3 L867.4 1457.6 L868.1 1464.2 L868.9 1469.7 L869.6 1472.5 L870.4 1473.7 L871.1 1474.7 L871.9 1475.6 L872.6 1476.2 L873.4 1476.8 L874.1 1477.2 L874.9 1477.6 L875.6 1478.0 L876.4 1478.3 L877.1 1478.6 L877.9 1478.9 L878.6 1479.1 L879.4 1479.2 L879.9 1479.1 L880.5 1479.0 L881.1 1478.7 L881.6 1478.4 L882.2 1477.9 L882.8 1477.3 L883.3 1476.0 L883.9 1472.9 L884.4 1467.8 L885.0 1457.6 L885.6 1454.7 L886.1 1452.9 L886.7 1451.8 L887.3 1451.1 L887.8 1450.4 L888.4 1449.9 L889.0 1449.4 L889.5 1449.1 L890.1 1448.8 L890.6 1448.7 L891.2 1448.7 L891.8 1448.7 L892.3 1448.7 L892.9 1448.7" stroke="#0068B8" stroke-width="8.00" fill="none" stroke-linejoin="round" stroke-dasharray="9 14" stroke-linecap="round"/>
<path d="M178.5 1959.6 L179.1 1946.6 L179.7 1934.4 L180.3 1923.2 L180.9 1913.3 L181.5 1904.8 L182.1 1897.3 L182.6 1890.4 L183.2 1884.1 L183.8 1878.4 L184.4 1873.4 L185.0 1869.1 L185.6 1865.3 L186.2 1862.0 L186.8 1858.9 L187.4 1856.1 L188.0 1853.6 L188.6 1851.2 L189.1 1849.0 L189.7 1846.9 L190.3 1845.0 L190.9 1843.1 L191.5 1841.5 L192.1 1840.0 L192.7 1838.7 L193.2 1839.2 L193.6 1840.6 L194.1 1842.8 L194.6 1845.6 L195.1 1849.0 L195.5 1852.8 L196.0 1858.0 L196.5 1868.1 L196.9 1879.5 L197.4 1887.3 L197.9 1890.8 L198.3 1893.7 L198.8 1896.2 L199.3 1898.2 L199.8 1899.9 L200.2 1901.4 L200.7 1902.7 L201.2 1903.9 L201.6 1905.0 L202.1 1906.0 L202.6 1906.9 L203.1 1907.7 L203.5 1908.3 L204.0 1908.6 L204.8 1908.0 L205.7 1906.6 L206.5 1904.9 L207.3 1902.3 L208.1 1898.4 L208.9 1890.6 L209.8 1876.9 L210.6 1865.8 L211.4 1857.0 L212.2 1849.0 L213.1 1841.6 L213.9 1834.7 L214.7 1828.1 L215.6 1821.7 L216.4 1815.7 L217.2 1810.1 L218.0 1805.1 L218.9 1800.7 L219.7 1796.5 L220.5 1792.5 L221.3 1788.9 L222.2 1785.5 L223.0 1782.6 L223.8 1780.1 L224.3 1780.6 L224.8 1782.0 L225.2 1784.3 L225.7 1787.2 L226.2 1790.7 L226.7 1794.6 L227.1 1799.9 L227.6 1810.3 L228.1 1822.0 L228.6 1830.0 L229.0 1833.6 L229.5 1836.6 L230.0 1839.1 L230.4 1841.2 L230.9 1843.0 L231.4 1844.5 L231.9 1845.8 L232.3 1847.0 L232.8 1848.2 L233.3 1849.3 L233.8 1850.2 L234.2 1851.0 L234.7 1851.6 L235.2 1851.9 L236.0 1851.3 L236.8 1849.9 L237.7 1848.1 L238.5 1845.4 L239.3 1841.5 L240.1 1833.5 L241.0 1819.5 L241.8 1808.1 L242.6 1799.1 L243.4 1791.0 L244.3 1783.4 L245.1 1776.4 L245.9 1769.6 L246.8 1763.1 L247.6 1757.0 L248.4 1751.3 L249.2 1746.2 L250.1 1741.7 L250.9 1737.4 L251.7 1733.3 L252.5 1729.5 L253.3 1726.1 L254.2 1723.1 L255.0 1720.6 L255.5 1721.1 L255.9 1722.5 L256.4 1724.7 L256.9 1727.6 L257.4 1731.0 L257.8 1734.9 L258.3 1740.1 L258.8 1750.4 L259.2 1761.9 L259.7 1769.8 L260.2 1773.4 L260.6 1776.3 L261.1 1778.8 L261.6 1780.9 L262.1 1782.6 L262.5 1784.1 L263.0 1785.4 L263.5 1786.6 L263.9 1787.7 L264.4 1788.8 L264.9 1789.7 L265.4 1790.5 L265.8 1791.1 L266.3 1791.4 L267.2 1790.8 L268.0 1789.5 L268.9 1787.8 L269.7 1785.1 L270.6 1781.3 L271.4 1773.6 L272.2 1760.0 L273.1 1748.9 L273.9 1740.2 L274.8 1732.3 L275.6 1725.0 L276.5 1718.1 L277.4 1711.6 L278.2 1705.3 L279.1 1699.3 L279.9 1693.8 L280.8 1688.8 L281.6 1684.4 L282.4 1680.3 L283.3 1676.3 L284.1 1672.7 L285.0 1669.4 L285.8 1666.5 L286.7 1664.0 L287.1 1664.5 L287.6 1665.8 L288.0 1668.0 L288.5 1670.7 L288.9 1674.0 L289.4 1677.7 L289.8 1682.7 L290.2 1692.6 L290.7 1703.7 L291.1 1711.3 L291.6 1714.7 L292.0 1717.5 L292.4 1719.9 L292.9 1721.9 L293.3 1723.6 L293.8 1725.0 L294.2 1726.2 L294.6 1727.4 L295.1 1728.5 L295.5 1729.5 L296.0 1730.4 L296.4 1731.1 L296.9 1731.7 L297.3 1732.0 L298.1 1731.4 L299.0 1730.1 L299.8 1728.3 L300.6 1725.7 L301.5 1721.8 L302.3 1714.1 L303.1 1700.5 L304.0 1689.3 L304.8 1680.6 L305.6 1672.6 L306.5 1665.3 L307.3 1658.4 L308.1 1651.8 L309.0 1645.5 L309.8 1639.4 L310.6 1633.9 L311.5 1628.9 L312.3 1624.5 L313.1 1620.3 L314.0 1616.4 L314.8 1612.7 L315.6 1609.4 L316.5 1606.5 L317.3 1604.0 L317.7 1604.0 L318.1 1604.2 L318.4 1604.4 L318.8 1604.7 L319.2 1605.0 L319.6 1605.4 L320.0 1606.6 L320.3 1609.0 L320.7 1612.0 L321.1 1615.7 L321.5 1621.5 L321.9 1628.5 L322.2 1635.2 L322.6 1641.0 L323.0 1646.6 L323.4 1652.0 L323.7 1656.8 L324.1 1661.4 L324.5 1665.7 L324.9 1669.2 L325.3 1671.6 L325.6 1673.6 L326.0 1675.2 L326.4 1676.0 L327.1 1675.9 L327.9 1675.6 L328.6 1675.1 L329.3 1674.5 L330.1 1673.2 L330.8 1669.2 L331.5 1656.0 L332.3 1643.4 L333.0 1634.8 L333.7 1628.6 L334.5 1623.6 L335.2 1619.4 L335.9 1615.8 L336.7 1612.7 L337.4 1609.8 L338.1 1607.1 L338.9 1604.4 L339.6 1601.9 L340.3 1599.8 L341.1 1598.3 L341.8 1597.1 L342.5 1596.0 L343.3 1595.2 L344.0 1594.7 L344.5 1594.7 L345.0 1594.8 L345.5 1595.0 L346.0 1595.2 L346.5 1595.5 L347.0 1595.9 L347.5 1596.8 L348.0 1598.7 L348.5 1601.2 L349.0 1604.2 L349.5 1608.9 L350.0 1614.6 L350.5 1620.1 L351.0 1624.8 L351.5 1629.4 L352.0 1633.7 L352.5 1637.6 L353.0 1641.4 L353.5 1644.9 L354.0 1647.8 L354.5 1649.7 L355.0 1651.4 L355.5 1652.6 L356.0 1653.3 L356.7 1653.2 L357.4 1652.9 L358.2 1652.4 L358.9 1651.8 L359.6 1650.5 L360.3 1646.5 L361.0 1633.3 L361.8 1620.7 L362.5 1612.1 L363.2 1605.9 L363.9 1600.9 L364.6 1596.7 L365.4 1593.1 L366.1 1590.0 L366.8 1587.1 L367.5 1584.4 L368.3 1581.7 L369.0 1579.2 L369.7 1577.1 L370.4 1575.6 L371.1 1574.4 L371.9 1573.3 L372.6 1572.5 L373.3 1572.0 L373.9 1572.0 L374.4 1572.1 L375.0 1572.3 L375.5 1572.5 L376.1 1572.8 L376.6 1573.2 L377.2 1574.1 L377.8 1576.0 L378.3 1578.6 L378.9 1581.5 L379.4 1586.2 L380.0 1591.9 L380.6 1597.4 L381.1 1602.2 L381.7 1606.8 L382.2 1611.1 L382.8 1615.0 L383.4 1618.8 L383.9 1622.3 L384.5 1625.2 L385.0 1627.1 L385.6 1628.8 L386.1 1630.0 L386.7 1630.7 L387.5 1630.6 L388.4 1630.3 L389.2 1629.8 L390.0 1629.2 L390.9 1627.9 L391.7 1623.9 L392.5 1610.7 L393.4 1598.1 L394.2 1589.5 L395.0 1583.2 L395.9 1578.2 L396.7 1574.0 L397.5 1570.5 L398.4 1567.3 L399.2 1564.5 L400.0 1561.7 L400.9 1559.0 L401.7 1556.5 L402.5 1554.4 L403.4 1552.9 L404.2 1551.7 L405.0 1550.6 L405.9 1549.8 L406.7 1549.3 L407.2 1549.3 L407.7 1549.4 L408.2 1549.6 L408.7 1549.8 L409.2 1550.1 L409.7 1550.5 L410.2 1551.4 L410.7 1553.3 L411.2 1555.9 L411.7 1558.8 L412.2 1563.5 L412.7 1569.2 L413.2 1574.7 L413.7 1579.5 L414.2 1584.1 L414.7 1588.4 L415.2 1592.3 L415.7 1596.1 L416.2 1599.6 L416.7 1602.5 L417.2 1604.4 L417.7 1606.1 L418.2 1607.3 L418.7 1608.0 L419.5 1607.9 L420.2 1607.6 L421.0 1607.1 L421.8 1606.5 L422.6 1605.2 L423.4 1601.3 L424.1 1588.3 L424.9 1575.9 L425.7 1567.5 L426.4 1561.3 L427.2 1556.4 L428.0 1552.3 L428.8 1548.8 L429.6 1545.7 L430.3 1542.9 L431.1 1540.2 L431.9 1537.5 L432.6 1535.1 L433.4 1533.1 L434.2 1531.6 L435.0 1530.3 L435.8 1529.3 L436.5 1528.4 L437.3 1528.0 L437.9 1528.0 L438.4 1528.1 L439.0 1528.3 L439.5 1528.5 L440.1 1528.8 L440.6 1529.1 L441.2 1530.1 L441.8 1531.9 L442.3 1534.4 L442.9 1537.3 L443.4 1541.9 L444.0 1547.5 L444.6 1552.8 L445.1 1557.5 L445.7 1561.9 L446.2 1566.2 L446.8 1570.0 L447.4 1573.7 L447.9 1577.1 L448.5 1579.9 L449.0 1581.8 L449.6 1583.4 L450.1 1584.6 L450.7 1585.3 L451.4 1585.2 L452.1 1584.9 L452.9 1584.5 L453.6 1583.8 L454.3 1582.6 L455.0 1578.7 L455.7 1566.0 L456.5 1553.8 L457.2 1545.5 L457.9 1539.4 L458.6 1534.6 L459.4 1530.6 L460.1 1527.1 L460.8 1524.1 L461.5 1521.3 L462.2 1518.7 L463.0 1516.1 L463.7 1513.7 L464.4 1511.7 L465.1 1510.2 L465.8 1509.0 L466.6 1507.9 L467.3 1507.1 L468.0 1506.7 L468.6 1506.7 L469.1 1506.8 L469.7 1507.0 L470.2 1507.2 L470.8 1507.5 L471.3 1507.9 L471.9 1508.8 L472.4 1510.7 L473.0 1513.2 L473.5 1516.2 L474.1 1520.9 L474.6 1526.6 L475.2 1532.1 L475.8 1536.8 L476.3 1541.4 L476.9 1545.7 L477.4 1549.6 L478.0 1553.4 L478.5 1556.9 L479.1 1559.8 L479.6 1561.7 L480.2 1563.4 L480.7 1564.6 L481.3 1565.3 L482.1 1565.2 L482.8 1564.9 L483.6 1564.4 L484.4 1563.8 L485.1 1562.5 L485.9 1558.6 L486.6 1545.5 L487.4 1533.0 L488.2 1524.5 L488.9 1518.3 L489.7 1513.4 L490.5 1509.3 L491.2 1505.7 L492.0 1502.6 L492.7 1499.8 L493.5 1497.1 L494.3 1494.4 L495.0 1491.9 L495.8 1489.9 L496.6 1488.4 L497.3 1487.1 L498.1 1486.1 L498.8 1485.3 L499.6 1484.8 L500.1 1484.8 L500.6 1484.9 L501.1 1485.1 L501.6 1485.3 L502.1 1485.6 L502.7 1485.9 L503.2 1486.9 L503.7 1488.7 L504.2 1491.2 L504.7 1494.1 L505.2 1498.7 L505.7 1504.3 L506.2 1509.7 L506.7 1514.3 L507.2 1518.8 L507.7 1523.0 L508.2 1526.9 L508.8 1530.6 L509.3 1534.0 L509.8 1536.8 L510.3 1538.7 L510.8 1540.3 L511.3 1541.5 L511.8 1542.2 L512.5 1542.1 L513.2 1541.8 L513.9 1541.3 L514.6 1540.7 L515.4 1539.4 L516.1 1535.5 L516.8 1522.4 L517.5 1509.9 L518.2 1501.4 L518.9 1495.2 L519.6 1490.2 L520.4 1486.1 L521.1 1482.6 L521.8 1479.4 L522.5 1476.6 L523.2 1473.9 L523.9 1471.2 L524.6 1468.8 L525.3 1466.7 L526.0 1465.2 L526.8 1464.0 L527.5 1462.9 L528.2 1462.1 L528.9 1461.6 L529.5 1461.6 L530.0 1461.7 L530.6 1461.9 L531.1 1462.1 L531.7 1462.4 L532.2 1462.8 L532.8 1463.8 L533.4 1465.7 L533.9 1468.3 L534.5 1471.3 L535.0 1476.1 L535.6 1481.9 L536.2 1487.5 L536.7 1492.3 L537.3 1497.0 L537.8 1501.4 L538.4 1505.4 L538.9 1509.3 L539.5 1512.9 L540.1 1515.8 L540.6 1517.7 L541.2 1519.4 L541.7 1520.7 L542.3 1521.4 L543.0 1521.3 L543.6 1521.0 L544.3 1520.5 L544.9 1519.9 L545.6 1519.0 L546.3 1517.9 L546.9 1515.6 L547.6 1509.7 L548.3 1500.3 L548.9 1481.6 L549.6 1476.3 L550.2 1472.9 L550.9 1470.9 L551.6 1469.6 L552.2 1468.4 L552.9 1467.4 L553.6 1466.5 L554.2 1465.9 L554.9 1465.4 L555.6 1465.2 L556.2 1465.2 L556.9 1465.2 L557.5 1465.2 L558.2 1465.2 L558.8 1465.2 L559.3 1465.4 L559.9 1465.7 L560.5 1466.2 L561.0 1466.8 L561.6 1467.7 L562.1 1468.9 L562.7 1477.6 L563.3 1488.9 L563.8 1498.2 L564.4 1502.8 L565.0 1504.9 L565.5 1506.6 L566.1 1508.0 L566.6 1509.1 L567.2 1510.0 L567.8 1510.8 L568.3 1511.4 L568.9 1512.0 L569.5 1512.6 L570.0 1513.1 L570.6 1513.6 L571.1 1513.9 L571.7 1514.1 L572.4 1514.0 L573.1 1513.7 L573.8 1513.2 L574.6 1512.5 L575.3 1511.7 L576.0 1510.5 L576.7 1508.2 L577.4 1502.2 L578.1 1492.6 L578.8 1473.4 L579.5 1468.0 L580.2 1464.6 L581.0 1462.5 L581.7 1461.1 L582.4 1460.0 L583.1 1458.9 L583.8 1458.1 L584.5 1457.4 L585.2 1456.9 L585.9 1456.7 L586.7 1456.7 L587.4 1456.7 L588.1 1456.7 L588.8 1456.7 L589.4 1456.7 L589.9 1456.9 L590.5 1457.2 L591.0 1457.7 L591.6 1458.4 L592.1 1459.3 L592.7 1460.4 L593.3 1469.5 L593.8 1480.9 L594.4 1490.5 L594.9 1495.3 L595.5 1497.4 L596.1 1499.1 L596.6 1500.6 L597.2 1501.7 L597.7 1502.6 L598.3 1503.4 L598.9 1504.1 L599.4 1504.7 L600.0 1505.3 L600.5 1505.8 L601.1 1506.2 L601.6 1506.6 L602.2 1506.8 L602.9 1506.7 L603.6 1506.4 L604.3 1506.0 L605.1 1505.4 L605.8 1504.6 L606.5 1503.5 L607.2 1501.4 L607.9 1495.9 L608.6 1487.1 L609.3 1469.5 L610.0 1464.6 L610.8 1461.4 L611.5 1459.5 L612.2 1458.3 L612.9 1457.2 L613.6 1456.2 L614.3 1455.5 L615.0 1454.8 L615.7 1454.4 L616.4 1454.2 L617.2 1454.2 L617.9 1454.2 L618.6 1454.2 L619.3 1454.2 L619.9 1454.2 L620.5 1454.4 L621.1 1454.7 L621.8 1455.1 L622.4 1455.8 L623.0 1456.6 L623.6 1457.7 L624.2 1466.0 L624.8 1476.7 L625.4 1485.6 L626.0 1490.0 L626.6 1492.0 L627.3 1493.6 L627.9 1494.9 L628.5 1496.0 L629.1 1496.8 L629.7 1497.6 L630.3 1498.2 L630.9 1498.7 L631.5 1499.3 L632.2 1499.8 L632.8 1500.2 L633.4 1500.5 L634.0 1500.7 L634.7 1500.6 L635.4 1500.3 L636.1 1499.9 L636.9 1499.2 L637.6 1498.4 L638.3 1497.4 L639.0 1495.1 L639.7 1489.5 L640.4 1480.5 L641.1 1462.6 L641.8 1457.5 L642.5 1454.3 L643.3 1452.3 L644.0 1451.1 L644.7 1450.0 L645.4 1449.0 L646.1 1448.2 L646.8 1447.6 L647.5 1447.1 L648.2 1446.9 L649.0 1446.9 L649.7 1446.9 L650.4 1446.9 L651.1 1446.9 L651.7 1446.9 L652.3 1447.1 L652.9 1447.4 L653.5 1447.8 L654.2 1448.5 L654.8 1449.4 L655.4 1450.5 L656.0 1459.0 L656.6 1470.0 L657.2 1479.1 L657.8 1483.6 L658.5 1485.6 L659.1 1487.3 L659.7 1488.7 L660.3 1489.8 L660.9 1490.6 L661.5 1491.4 L662.1 1492.0 L662.7 1492.6 L663.3 1493.1 L664.0 1493.6 L664.6 1494.1 L665.2 1494.4 L665.8 1494.6 L666.5 1494.5 L667.2 1494.2 L667.9 1493.8 L668.6 1493.1 L669.4 1492.3 L670.1 1491.2 L670.8 1488.9 L671.5 1483.2 L672.2 1474.0 L672.9 1455.6 L673.6 1450.5 L674.3 1447.2 L675.1 1445.2 L675.8 1443.9 L676.5 1442.7 L677.2 1441.7 L677.9 1440.9 L678.6 1440.3 L679.3 1439.8 L680.0 1439.6 L680.8 1439.6 L681.5 1439.6 L682.2 1439.6 L682.9 1439.6 L683.4 1439.6 L684.0 1439.8 L684.5 1440.1 L685.1 1440.5 L685.6 1441.1 L686.1 1442.0 L686.7 1443.1 L687.2 1451.4 L687.8 1462.0 L688.3 1470.8 L688.9 1475.2 L689.4 1477.2 L689.9 1478.8 L690.5 1480.1 L691.0 1481.2 L691.6 1482.1 L692.1 1482.8 L692.6 1483.4 L693.2 1483.9 L693.7 1484.5 L694.3 1485.0 L694.8 1485.4 L695.4 1485.7 L695.9 1485.9 L696.6 1485.8 L697.3 1485.5 L698.0 1485.1 L698.8 1484.5 L699.5 1483.7 L700.2 1482.6 L700.9 1480.5 L701.6 1475.0 L702.3 1466.2 L703.0 1448.6 L703.7 1443.7 L704.5 1440.5 L705.2 1438.6 L705.9 1437.4 L706.6 1436.3 L707.3 1435.3 L708.0 1434.6 L708.7 1433.9 L709.4 1433.5 L710.1 1433.3 L710.9 1433.3 L711.6 1433.3 L712.3 1433.3 L713.0 1433.3 L713.5 1433.3 L713.9 1433.5 L714.4 1433.8 L714.8 1434.2 L715.3 1434.9 L715.8 1435.7 L716.2 1436.8 L716.7 1445.1 L717.1 1455.8 L717.6 1464.7 L718.0 1469.1 L718.5 1471.1 L719.0 1472.7 L719.4 1474.0 L719.9 1475.1 L720.3 1475.9 L720.8 1476.7 L721.2 1477.3 L721.7 1477.8 L722.2 1478.4 L722.6 1478.9 L723.1 1479.3 L723.5 1479.6 L724.0 1479.8 L724.7 1479.7 L725.4 1479.5 L726.1 1479.2 L726.9 1478.8 L727.6 1478.2 L728.3 1477.5 L729.0 1475.9 L729.7 1471.9 L730.4 1465.6 L731.1 1452.9 L731.8 1449.4 L732.5 1447.1 L733.3 1445.7 L734.0 1444.8 L734.7 1444.1 L735.4 1443.4 L736.1 1442.8 L736.8 1442.4 L737.5 1442.1 L738.2 1441.9 L739.0 1441.9 L739.7 1441.9 L740.4 1441.9 L741.1 1441.9 L741.7 1441.9 L742.2 1442.0 L742.8 1442.3 L743.4 1442.6 L743.9 1443.1 L744.5 1443.7 L745.0 1444.5 L745.6 1450.9 L746.2 1459.0 L746.7 1465.8 L747.3 1469.1 L747.9 1470.6 L748.4 1471.9 L749.0 1472.9 L749.5 1473.7 L750.1 1474.4 L750.7 1474.9 L751.2 1475.4 L751.8 1475.8 L752.4 1476.2 L752.9 1476.6 L753.5 1476.9 L754.0 1477.2 L754.6 1477.3 L755.3 1477.2 L756.0 1477.1 L756.7 1476.7 L757.5 1476.3 L758.2 1475.7 L758.9 1475.0 L759.6 1473.5 L760.3 1469.7 L761.0 1463.6 L761.7 1451.4 L762.4 1447.9 L763.2 1445.7 L763.9 1444.4 L764.6 1443.5 L765.3 1442.8 L766.0 1442.1 L766.7 1441.6 L767.4 1441.1 L768.1 1440.9 L768.9 1440.7 L769.6 1440.7 L770.3 1440.7 L771.0 1440.7 L771.7 1440.7 L772.3 1440.7 L772.8 1440.9 L773.4 1441.1 L773.9 1441.4 L774.5 1441.9 L775.1 1442.6 L775.6 1443.4 L776.2 1450.0 L776.7 1458.4 L777.3 1465.4 L777.8 1468.9 L778.4 1470.4 L779.0 1471.7 L779.5 1472.7 L780.1 1473.6 L780.6 1474.3 L781.2 1474.8 L781.8 1475.3 L782.3 1475.7 L782.9 1476.2 L783.4 1476.6 L784.0 1476.9 L784.5 1477.1 L785.1 1477.3 L785.8 1477.2 L786.5 1477.0 L787.2 1476.7 L788.0 1476.3 L788.7 1475.7 L789.4 1475.0 L790.1 1473.4 L790.8 1469.4 L791.5 1463.1 L792.2 1450.4 L792.9 1446.9 L793.7 1444.6 L794.4 1443.2 L795.1 1442.3 L795.8 1441.6 L796.5 1440.9 L797.2 1440.3 L797.9 1439.9 L798.6 1439.6 L799.4 1439.4 L800.1 1439.4 L800.8 1439.4 L801.5 1439.4 L802.2 1439.4 L802.8 1439.4 L803.3 1439.6 L803.9 1439.8 L804.5 1440.1 L805.0 1440.6 L805.6 1441.3 L806.1 1442.1 L806.7 1448.7 L807.3 1457.2 L807.8 1464.1 L808.4 1467.6 L809.0 1469.2 L809.5 1470.5 L810.1 1471.5 L810.6 1472.4 L811.2 1473.1 L811.8 1473.6 L812.3 1474.1 L812.9 1474.5 L813.5 1475.0 L814.0 1475.4 L814.6 1475.7 L815.1 1475.9 L815.7 1476.1 L816.4 1476.0 L817.0 1475.8 L817.7 1475.5 L818.4 1475.0 L819.0 1474.4 L819.7 1473.7 L820.3 1472.1 L821.0 1468.0 L821.7 1461.5 L822.3 1448.4 L823.0 1444.7 L823.7 1442.4 L824.3 1441.0 L825.0 1440.0 L825.6 1439.2 L826.3 1438.5 L827.0 1437.9 L827.6 1437.5 L828.3 1437.2 L829.0 1437.0 L829.6 1437.0 L830.3 1437.0 L830.9 1437.0 L831.6 1437.0 L832.2 1437.0 L832.8 1437.2 L833.4 1437.4 L834.0 1437.8 L834.6 1438.3 L835.2 1439.0 L835.9 1439.8 L836.5 1446.6 L837.1 1455.3 L837.7 1462.6 L838.3 1466.2 L838.9 1467.8 L839.5 1469.1 L840.1 1470.2 L840.7 1471.0 L841.3 1471.8 L841.9 1472.3 L842.6 1472.8 L843.2 1473.3 L843.8 1473.7 L844.4 1474.1 L845.0 1474.5 L845.6 1474.7 L846.2 1474.9 L846.9 1474.8 L847.5 1474.6 L848.2 1474.3 L848.9 1473.8 L849.5 1473.2 L850.2 1472.4 L850.9 1470.7 L851.5 1466.5 L852.2 1459.8 L852.9 1446.3 L853.5 1442.6 L854.2 1440.1 L854.9 1438.7 L855.5 1437.7 L856.2 1436.9 L856.9 1436.2 L857.5 1435.6 L858.2 1435.1 L858.9 1434.8 L859.5 1434.6 L860.2 1434.6 L860.9 1434.6 L861.5 1434.6 L862.2 1434.6 L862.8 1434.6 L863.4 1434.8 L864.0 1435.0 L864.6 1435.4 L865.2 1435.9 L865.9 1436.6 L866.5 1437.5 L867.1 1444.6 L867.7 1453.5 L868.3 1461.0 L868.9 1464.7 L869.5 1466.3 L870.1 1467.7 L870.7 1468.8 L871.3 1469.7 L871.9 1470.5 L872.5 1471.1 L873.1 1471.6 L873.8 1472.0 L874.4 1472.5 L875.0 1472.9 L875.6 1473.3 L876.2 1473.5 L876.8 1473.7 L877.4 1473.6 L877.9 1473.4 L878.5 1473.1 L879.0 1472.6 L879.6 1472.0 L880.2 1471.2 L880.7 1469.5 L881.3 1465.3 L881.9 1458.6 L882.4 1445.1 L883.0 1441.3 L883.5 1438.9 L884.1 1437.4 L884.7 1436.4 L885.2 1435.6 L885.8 1434.9 L886.4 1434.3 L886.9 1433.8 L887.5 1433.5 L888.0 1433.3 L888.6 1433.3 L889.2 1433.3 L889.7 1433.3 L890.3 1433.3" stroke="#D84B12" stroke-width="8.60" fill="none" stroke-linejoin="round" stroke-linecap="round"/>
</g>
<g filter="url(#blt)">
<rect x="356.8" y="1802.1" width="484.7" height="132.3" fill="#fff" stroke="#777777" stroke-width="2.8" stroke-linejoin="round"/>
</g>
<g filter="url(#blg)">
<line x1="368.9" y1="1834.8" x2="511.9" y2="1834.8" stroke="#0068B8" stroke-width="9.20" stroke-dasharray="37.5 9.5 18.5 9.5"/>
<line x1="368.9" y1="1894" x2="512" y2="1894" stroke="#D84B12" stroke-width="9.20"/>
</g>
<g filter="url(#blt)">
<text transform="translate(523.00 1852.00) scale(1.000 1.030)" font-size="37.61" letter-spacing="0.30" stroke="#1e1e1e" stroke-width="0.75" fill="#1e1e1e">Data</text>
<text transform="translate(523.50 1902.20) scale(1.000 1.030)" font-size="37.61" letter-spacing="0.10" stroke="#1e1e1e" stroke-width="0.75" fill="#1e1e1e" word-spacing="3.2">Model fit, Vary R<tspan font-size="28.5" dy="18" dx="1.5">2</tspan></text>
</g>
</g>
</svg>
</body></html>
